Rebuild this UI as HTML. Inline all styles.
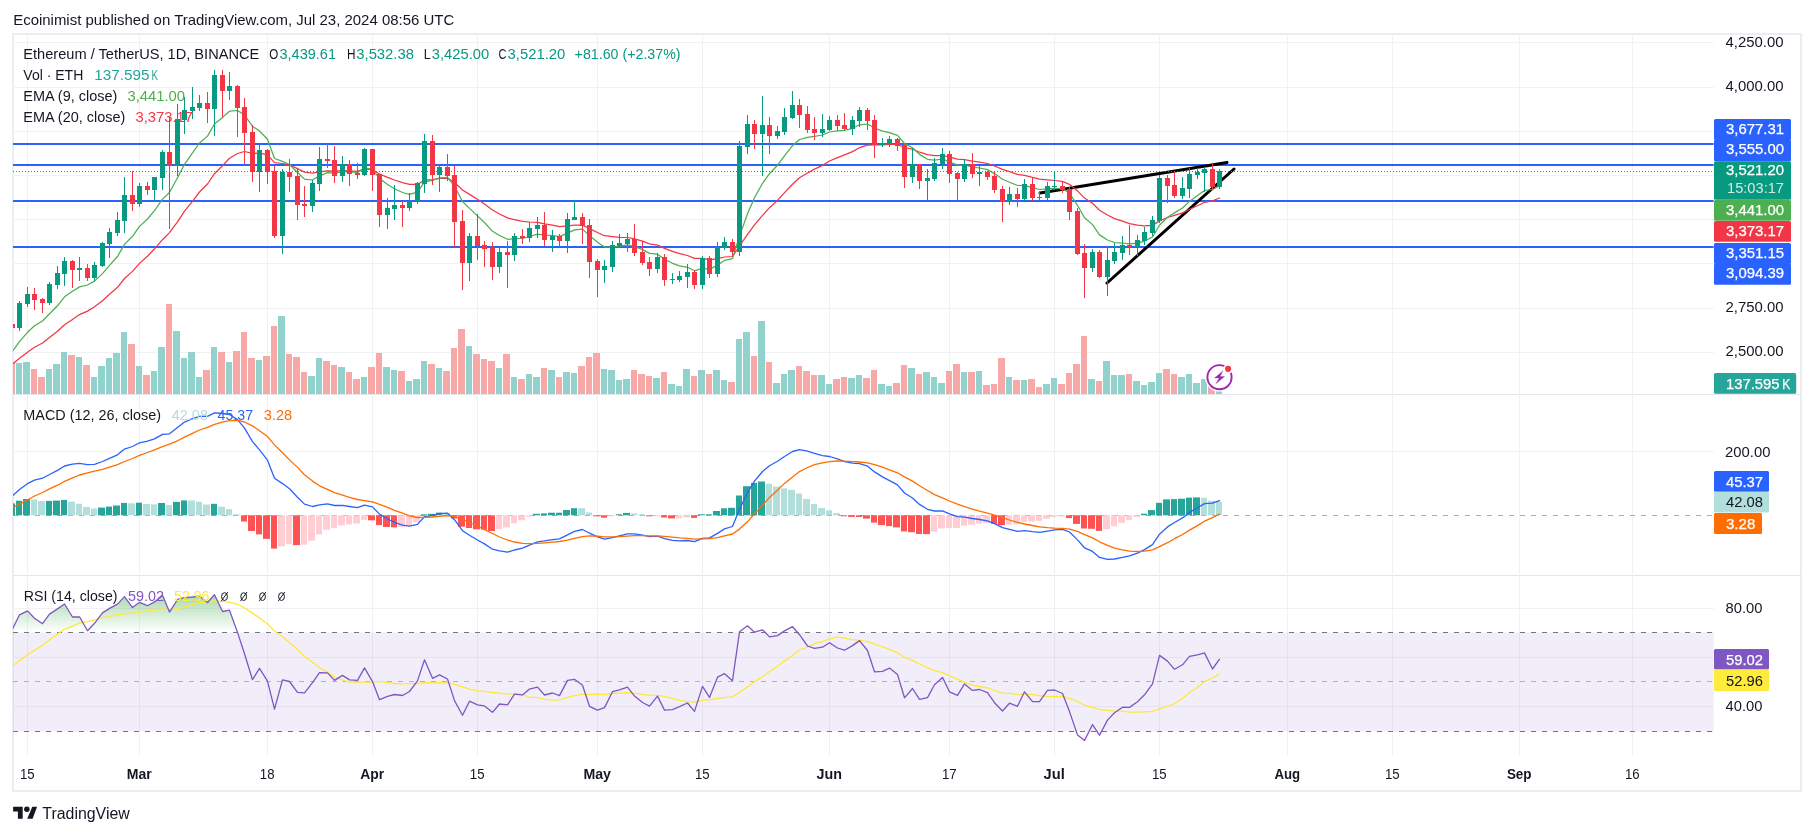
<!DOCTYPE html><html><head><meta charset="utf-8"><style>html,body{margin:0;padding:0;background:#fff}svg{display:block}</style></head><body><svg width="1814" height="835" viewBox="0 0 1814 835" font-family="Liberation Sans, sans-serif">
<rect width="1814" height="835" fill="#fff"/>
<defs><filter id="idf" x="0" y="0" width="1814" height="835" filterUnits="userSpaceOnUse" color-interpolation-filters="sRGB"><feOffset dx="0" dy="0"/></filter></defs>
<g filter="url(#idf)">
<text x="13.2" y="24.6" font-size="15" fill="#131722" font-weight="normal" text-anchor="start" textLength="441.0" lengthAdjust="spacingAndGlyphs" >Ecoinimist published on TradingView.com, Jul 23, 2024 08:56 UTC</text>
<defs><clipPath id="cp1"><rect x="13" y="34" width="1700.8" height="360.5"/></clipPath><clipPath id="cp2"><rect x="13" y="394.5" width="1700.8" height="181.0"/></clipPath><clipPath id="cp3"><rect x="13" y="575.5" width="1700.8" height="182.0"/></clipPath><linearGradient id="rg" x1="0" y1="0" x2="0" y2="1"><stop offset="0" stop-color="#4caf50" stop-opacity="0.95"/><stop offset="1" stop-color="#4caf50" stop-opacity="0"/></linearGradient><linearGradient id="rg2" x1="0" y1="0" x2="0" y2="1"><stop offset="0" stop-color="#f23645" stop-opacity="0"/><stop offset="1" stop-color="#f23645" stop-opacity="0.95"/></linearGradient></defs>
<g stroke="#ebedf2" stroke-width="2" fill="none">
<rect x="13" y="34" width="1788" height="757"/>
</g>
<g stroke="#e4e6ec" stroke-width="1" fill="none">
<line x1="12.5" y1="394.5" x2="1801" y2="394.5"/>
<line x1="12.5" y1="575.5" x2="1801" y2="575.5"/>
</g>
<g stroke="#f1f1f3" stroke-width="1">
<line x1="27.5" y1="34" x2="27.5" y2="756"/>
<line x1="139.5" y1="34" x2="139.5" y2="756"/>
<line x1="267.5" y1="34" x2="267.5" y2="756"/>
<line x1="372.5" y1="34" x2="372.5" y2="756"/>
<line x1="477.5" y1="34" x2="477.5" y2="756"/>
<line x1="597.5" y1="34" x2="597.5" y2="756"/>
<line x1="702.5" y1="34" x2="702.5" y2="756"/>
<line x1="829.5" y1="34" x2="829.5" y2="756"/>
<line x1="949.5" y1="34" x2="949.5" y2="756"/>
<line x1="1054.5" y1="34" x2="1054.5" y2="756"/>
<line x1="1159.5" y1="34" x2="1159.5" y2="756"/>
<line x1="1287.5" y1="34" x2="1287.5" y2="756"/>
<line x1="1392.5" y1="34" x2="1392.5" y2="756"/>
<line x1="1519.5" y1="34" x2="1519.5" y2="756"/>
<line x1="1632.5" y1="34" x2="1632.5" y2="756"/>
<line x1="12.5" y1="42.5" x2="1713.8" y2="42.5"/>
<line x1="12.5" y1="87.5" x2="1713.8" y2="87.5"/>
<line x1="12.5" y1="131.5" x2="1713.8" y2="131.5"/>
<line x1="12.5" y1="175.5" x2="1713.8" y2="175.5"/>
<line x1="12.5" y1="219.5" x2="1713.8" y2="219.5"/>
<line x1="12.5" y1="263.5" x2="1713.8" y2="263.5"/>
<line x1="12.5" y1="308.5" x2="1713.8" y2="308.5"/>
<line x1="12.5" y1="352.5" x2="1713.8" y2="352.5"/>
<line x1="12.5" y1="451.5" x2="1713.8" y2="451.5"/>
<line x1="12.5" y1="608.5" x2="1713.8" y2="608.5"/>
<line x1="12.5" y1="657.5" x2="1713.8" y2="657.5"/>
<line x1="12.5" y1="706.5" x2="1713.8" y2="706.5"/>
</g>
<g clip-path="url(#cp1)">
<rect x="8" y="363.0" width="7" height="31" fill="#f7a9a7"/>
<rect x="16" y="363.0" width="6" height="31" fill="#92d2cc"/>
<rect x="23" y="362.0" width="7" height="32" fill="#92d2cc"/>
<rect x="31" y="369.0" width="6" height="25" fill="#f7a9a7"/>
<rect x="38" y="377.0" width="7" height="17" fill="#f7a9a7"/>
<rect x="46" y="369.0" width="6" height="25" fill="#92d2cc"/>
<rect x="53" y="364.0" width="7" height="30" fill="#92d2cc"/>
<rect x="61" y="352.0" width="6" height="42" fill="#92d2cc"/>
<rect x="68" y="355.0" width="7" height="39" fill="#f7a9a7"/>
<rect x="76" y="357.0" width="6" height="37" fill="#92d2cc"/>
<rect x="83" y="365.0" width="7" height="29" fill="#f7a9a7"/>
<rect x="91" y="377.0" width="6" height="17" fill="#92d2cc"/>
<rect x="98" y="366.0" width="7" height="28" fill="#92d2cc"/>
<rect x="106" y="358.0" width="6" height="36" fill="#92d2cc"/>
<rect x="113" y="353.0" width="7" height="41" fill="#92d2cc"/>
<rect x="121" y="332.0" width="6" height="62" fill="#92d2cc"/>
<rect x="128" y="344.0" width="7" height="50" fill="#f7a9a7"/>
<rect x="136" y="366.0" width="6" height="28" fill="#92d2cc"/>
<rect x="143" y="375.0" width="7" height="19" fill="#f7a9a7"/>
<rect x="151" y="371.0" width="6" height="23" fill="#92d2cc"/>
<rect x="158" y="347.0" width="7" height="47" fill="#92d2cc"/>
<rect x="166" y="304.0" width="6" height="90" fill="#f7a9a7"/>
<rect x="173" y="331.0" width="7" height="63" fill="#92d2cc"/>
<rect x="181" y="358.0" width="6" height="36" fill="#92d2cc"/>
<rect x="188" y="352.0" width="7" height="42" fill="#92d2cc"/>
<rect x="196" y="377.0" width="6" height="17" fill="#92d2cc"/>
<rect x="203" y="370.0" width="7" height="24" fill="#f7a9a7"/>
<rect x="211" y="347.0" width="6" height="47" fill="#92d2cc"/>
<rect x="218" y="352.0" width="7" height="42" fill="#f7a9a7"/>
<rect x="226" y="362.0" width="6" height="32" fill="#92d2cc"/>
<rect x="233" y="351.0" width="7" height="43" fill="#f7a9a7"/>
<rect x="241" y="332.0" width="6" height="62" fill="#f7a9a7"/>
<rect x="248" y="358.0" width="7" height="36" fill="#f7a9a7"/>
<rect x="256" y="360.0" width="6" height="34" fill="#92d2cc"/>
<rect x="263" y="356.0" width="7" height="38" fill="#f7a9a7"/>
<rect x="271" y="326.0" width="6" height="68" fill="#f7a9a7"/>
<rect x="278" y="316.0" width="7" height="78" fill="#92d2cc"/>
<rect x="286" y="354.0" width="6" height="40" fill="#f7a9a7"/>
<rect x="293" y="357.0" width="7" height="37" fill="#f7a9a7"/>
<rect x="301" y="372.0" width="6" height="22" fill="#f7a9a7"/>
<rect x="308" y="376.0" width="7" height="18" fill="#92d2cc"/>
<rect x="316" y="358.0" width="6" height="36" fill="#92d2cc"/>
<rect x="323" y="361.0" width="7" height="33" fill="#f7a9a7"/>
<rect x="331" y="365.0" width="6" height="29" fill="#f7a9a7"/>
<rect x="338" y="367.0" width="7" height="27" fill="#92d2cc"/>
<rect x="346" y="372.0" width="6" height="22" fill="#f7a9a7"/>
<rect x="353" y="379.0" width="7" height="15" fill="#f7a9a7"/>
<rect x="361" y="377.0" width="6" height="17" fill="#92d2cc"/>
<rect x="368" y="367.0" width="7" height="27" fill="#f7a9a7"/>
<rect x="376" y="353.0" width="6" height="41" fill="#f7a9a7"/>
<rect x="383" y="367.0" width="7" height="27" fill="#92d2cc"/>
<rect x="391" y="370.0" width="6" height="24" fill="#92d2cc"/>
<rect x="398" y="371.0" width="7" height="23" fill="#f7a9a7"/>
<rect x="406" y="381.0" width="6" height="13" fill="#92d2cc"/>
<rect x="413" y="379.0" width="7" height="15" fill="#92d2cc"/>
<rect x="421" y="361.0" width="6" height="33" fill="#92d2cc"/>
<rect x="428" y="364.0" width="7" height="30" fill="#f7a9a7"/>
<rect x="436" y="368.0" width="6" height="26" fill="#92d2cc"/>
<rect x="443" y="371.0" width="7" height="23" fill="#f7a9a7"/>
<rect x="451" y="348.0" width="6" height="46" fill="#f7a9a7"/>
<rect x="458" y="329.0" width="7" height="65" fill="#f7a9a7"/>
<rect x="466" y="346.0" width="6" height="48" fill="#92d2cc"/>
<rect x="473" y="354.0" width="7" height="40" fill="#f7a9a7"/>
<rect x="481" y="359.0" width="6" height="35" fill="#f7a9a7"/>
<rect x="488" y="361.0" width="7" height="33" fill="#f7a9a7"/>
<rect x="496" y="368.0" width="6" height="26" fill="#92d2cc"/>
<rect x="503" y="354.0" width="7" height="40" fill="#f7a9a7"/>
<rect x="511" y="377.0" width="6" height="17" fill="#92d2cc"/>
<rect x="518" y="379.0" width="7" height="15" fill="#f7a9a7"/>
<rect x="526" y="374.0" width="6" height="20" fill="#92d2cc"/>
<rect x="533" y="377.0" width="7" height="17" fill="#92d2cc"/>
<rect x="541" y="368.0" width="6" height="26" fill="#f7a9a7"/>
<rect x="548" y="370.0" width="7" height="24" fill="#92d2cc"/>
<rect x="556" y="377.0" width="6" height="17" fill="#f7a9a7"/>
<rect x="563" y="372.0" width="7" height="22" fill="#92d2cc"/>
<rect x="571" y="373.0" width="6" height="21" fill="#92d2cc"/>
<rect x="578" y="366.0" width="7" height="28" fill="#f7a9a7"/>
<rect x="586" y="357.0" width="6" height="37" fill="#f7a9a7"/>
<rect x="593" y="353.0" width="7" height="41" fill="#f7a9a7"/>
<rect x="601" y="369.0" width="6" height="25" fill="#92d2cc"/>
<rect x="608" y="370.0" width="7" height="24" fill="#92d2cc"/>
<rect x="616" y="380.0" width="6" height="14" fill="#92d2cc"/>
<rect x="623" y="379.0" width="7" height="15" fill="#92d2cc"/>
<rect x="631" y="370.0" width="6" height="24" fill="#f7a9a7"/>
<rect x="638" y="374.0" width="7" height="20" fill="#f7a9a7"/>
<rect x="646" y="376.0" width="6" height="18" fill="#f7a9a7"/>
<rect x="653" y="378.0" width="7" height="16" fill="#92d2cc"/>
<rect x="661" y="372.0" width="6" height="22" fill="#f7a9a7"/>
<rect x="668" y="384.0" width="7" height="10" fill="#92d2cc"/>
<rect x="676" y="386.0" width="6" height="8" fill="#92d2cc"/>
<rect x="683" y="369.0" width="7" height="25" fill="#92d2cc"/>
<rect x="691" y="376.0" width="6" height="18" fill="#f7a9a7"/>
<rect x="698" y="370.0" width="7" height="24" fill="#92d2cc"/>
<rect x="706" y="374.0" width="6" height="20" fill="#f7a9a7"/>
<rect x="713" y="370.0" width="7" height="24" fill="#92d2cc"/>
<rect x="721" y="380.0" width="6" height="14" fill="#92d2cc"/>
<rect x="728" y="382.0" width="7" height="12" fill="#f7a9a7"/>
<rect x="736" y="339.0" width="6" height="55" fill="#92d2cc"/>
<rect x="743" y="332.0" width="7" height="62" fill="#92d2cc"/>
<rect x="751" y="356.0" width="6" height="38" fill="#f7a9a7"/>
<rect x="758" y="321.0" width="7" height="73" fill="#92d2cc"/>
<rect x="766" y="362.0" width="6" height="32" fill="#f7a9a7"/>
<rect x="773" y="383.0" width="7" height="11" fill="#92d2cc"/>
<rect x="781" y="374.0" width="6" height="20" fill="#92d2cc"/>
<rect x="788" y="370.0" width="7" height="24" fill="#92d2cc"/>
<rect x="796" y="366.0" width="6" height="28" fill="#f7a9a7"/>
<rect x="803" y="371.0" width="7" height="23" fill="#f7a9a7"/>
<rect x="811" y="375.0" width="6" height="19" fill="#f7a9a7"/>
<rect x="818" y="375.0" width="7" height="19" fill="#92d2cc"/>
<rect x="826" y="384.0" width="6" height="10" fill="#92d2cc"/>
<rect x="833" y="379.0" width="7" height="15" fill="#f7a9a7"/>
<rect x="841" y="377.0" width="6" height="17" fill="#f7a9a7"/>
<rect x="848" y="378.0" width="7" height="16" fill="#92d2cc"/>
<rect x="856" y="375.0" width="6" height="19" fill="#92d2cc"/>
<rect x="863" y="378.0" width="7" height="16" fill="#f7a9a7"/>
<rect x="871" y="370.0" width="6" height="24" fill="#f7a9a7"/>
<rect x="878" y="384.0" width="7" height="10" fill="#92d2cc"/>
<rect x="886" y="386.0" width="6" height="8" fill="#92d2cc"/>
<rect x="893" y="383.0" width="7" height="11" fill="#f7a9a7"/>
<rect x="901" y="365.0" width="6" height="29" fill="#f7a9a7"/>
<rect x="908" y="368.0" width="7" height="26" fill="#92d2cc"/>
<rect x="916" y="374.0" width="6" height="20" fill="#f7a9a7"/>
<rect x="923" y="372.0" width="7" height="22" fill="#92d2cc"/>
<rect x="931" y="377.0" width="6" height="17" fill="#92d2cc"/>
<rect x="938" y="383.0" width="7" height="11" fill="#92d2cc"/>
<rect x="946" y="371.0" width="6" height="23" fill="#f7a9a7"/>
<rect x="953" y="364.0" width="7" height="30" fill="#f7a9a7"/>
<rect x="961" y="372.0" width="6" height="22" fill="#92d2cc"/>
<rect x="968" y="372.0" width="7" height="22" fill="#f7a9a7"/>
<rect x="976" y="371.0" width="6" height="23" fill="#92d2cc"/>
<rect x="983" y="385.0" width="7" height="9" fill="#f7a9a7"/>
<rect x="991" y="384.0" width="6" height="10" fill="#f7a9a7"/>
<rect x="998" y="358.0" width="7" height="36" fill="#f7a9a7"/>
<rect x="1006" y="377.0" width="6" height="17" fill="#92d2cc"/>
<rect x="1013" y="380.0" width="7" height="14" fill="#f7a9a7"/>
<rect x="1021" y="380.0" width="6" height="14" fill="#92d2cc"/>
<rect x="1028" y="379.0" width="7" height="15" fill="#f7a9a7"/>
<rect x="1036" y="387.0" width="6" height="7" fill="#f7a9a7"/>
<rect x="1043" y="384.0" width="7" height="10" fill="#92d2cc"/>
<rect x="1051" y="378.0" width="6" height="16" fill="#92d2cc"/>
<rect x="1058" y="384.0" width="7" height="10" fill="#f7a9a7"/>
<rect x="1066" y="373.0" width="6" height="21" fill="#f7a9a7"/>
<rect x="1073" y="364.0" width="7" height="30" fill="#f7a9a7"/>
<rect x="1081" y="336.0" width="6" height="58" fill="#f7a9a7"/>
<rect x="1088" y="379.0" width="7" height="15" fill="#92d2cc"/>
<rect x="1096" y="381.0" width="6" height="13" fill="#f7a9a7"/>
<rect x="1103" y="361.0" width="7" height="33" fill="#92d2cc"/>
<rect x="1111" y="375.0" width="6" height="19" fill="#92d2cc"/>
<rect x="1118" y="375.0" width="7" height="19" fill="#92d2cc"/>
<rect x="1126" y="374.0" width="6" height="20" fill="#f7a9a7"/>
<rect x="1133" y="381.0" width="7" height="13" fill="#92d2cc"/>
<rect x="1141" y="385.0" width="6" height="9" fill="#92d2cc"/>
<rect x="1148" y="382.0" width="7" height="12" fill="#92d2cc"/>
<rect x="1156" y="373.0" width="6" height="21" fill="#92d2cc"/>
<rect x="1163" y="369.0" width="7" height="25" fill="#f7a9a7"/>
<rect x="1171" y="374.0" width="6" height="20" fill="#f7a9a7"/>
<rect x="1178" y="377.0" width="7" height="17" fill="#92d2cc"/>
<rect x="1186" y="374.0" width="6" height="20" fill="#92d2cc"/>
<rect x="1193" y="383.0" width="7" height="11" fill="#92d2cc"/>
<rect x="1201" y="379.0" width="6" height="15" fill="#92d2cc"/>
<rect x="1208" y="385.0" width="7" height="9" fill="#f7a9a7"/>
<rect x="1216" y="384.0" width="6" height="10" fill="#92d2cc"/>
<line x1="12.5" y1="144" x2="1713.8" y2="144" stroke="#2962ff" stroke-width="2"/>
<line x1="12.5" y1="165" x2="1713.8" y2="165" stroke="#2962ff" stroke-width="2"/>
<line x1="12.5" y1="201" x2="1713.8" y2="201" stroke="#2962ff" stroke-width="2"/>
<line x1="12.5" y1="247" x2="1713.8" y2="247" stroke="#2962ff" stroke-width="2"/>
<line x1="1040" y1="193" x2="1227" y2="162.5" stroke="#000" stroke-width="3" stroke-linecap="round"/>
<line x1="1107" y1="283" x2="1234" y2="169" stroke="#000" stroke-width="3" stroke-linecap="round"/>
<polyline points="12.5,364.1 19.5,358.3 27.5,352.3 34.5,347.2 42.5,343.0 49.5,337.4 57.5,331.3 64.5,324.7 72.5,319.4 79.5,314.6 87.5,311.1 94.5,306.7 102.5,300.7 109.5,294.2 117.5,287.3 124.5,278.5 132.5,271.4 139.5,263.4 147.5,256.3 154.5,248.8 162.5,239.7 169.5,232.6 177.5,221.8 184.5,211.2 192.5,201.3 199.5,192.0 207.5,184.0 214.5,173.7 222.5,165.8 229.5,158.3 237.5,153.5 244.5,151.5 252.5,153.4 259.5,153.1 267.5,154.9 274.5,162.6 282.5,163.5 289.5,164.8 297.5,168.6 304.5,172.1 312.5,173.2 319.5,171.9 327.5,170.8 334.5,171.2 342.5,170.6 349.5,170.9 357.5,171.3 364.5,169.2 372.5,169.7 379.5,174.0 387.5,177.3 394.5,180.0 402.5,182.7 409.5,184.4 417.5,184.4 424.5,180.2 432.5,179.7 439.5,178.5 447.5,178.2 454.5,182.4 462.5,190.0 469.5,194.4 477.5,199.3 484.5,204.0 492.5,210.0 499.5,214.0 507.5,217.9 514.5,219.6 522.5,221.4 529.5,222.0 537.5,222.3 544.5,223.9 552.5,225.1 559.5,226.6 567.5,225.9 574.5,225.1 582.5,225.2 589.5,228.6 597.5,232.5 604.5,235.7 612.5,236.6 619.5,237.3 627.5,237.5 634.5,238.9 642.5,241.2 649.5,243.8 657.5,245.1 664.5,248.4 672.5,251.3 679.5,253.7 687.5,255.5 694.5,258.3 702.5,258.3 709.5,259.8 717.5,258.6 724.5,257.0 732.5,256.5 739.5,246.0 747.5,234.4 754.5,224.8 762.5,215.3 769.5,207.7 777.5,200.4 784.5,192.6 792.5,184.3 799.5,177.7 807.5,173.0 814.5,169.1 822.5,165.4 829.5,161.0 837.5,157.7 844.5,154.9 852.5,151.6 859.5,147.7 867.5,145.1 874.5,145.0 882.5,144.9 889.5,144.3 897.5,144.5 904.5,147.5 912.5,149.1 919.5,152.2 927.5,154.7 934.5,155.6 942.5,155.5 949.5,157.2 957.5,159.2 964.5,159.7 972.5,161.1 979.5,162.1 987.5,163.5 994.5,166.0 1002.5,169.4 1009.5,171.7 1017.5,174.3 1024.5,175.3 1032.5,177.3 1039.5,179.2 1047.5,179.9 1054.5,180.5 1062.5,181.4 1069.5,184.3 1077.5,190.9 1084.5,198.1 1092.5,203.3 1099.5,210.2 1107.5,215.0 1114.5,218.6 1122.5,221.2 1129.5,223.6 1137.5,225.2 1144.5,225.9 1152.5,225.4 1159.5,220.9 1167.5,217.5 1174.5,215.4 1182.5,212.9 1189.5,209.3 1197.5,205.8 1204.5,202.3 1212.5,200.8 1219.5,198.0" fill="none" stroke="#f23645" stroke-width="1.25" stroke-linejoin="round" stroke-linecap="round" />
<polyline points="12.5,351.2 19.5,341.6 27.5,332.3 34.5,325.7 42.5,321.0 49.5,313.8 57.5,305.8 64.5,296.8 72.5,291.3 79.5,286.9 87.5,285.0 94.5,281.1 102.5,273.6 109.5,265.4 117.5,256.5 124.5,244.4 132.5,236.3 139.5,226.4 147.5,219.0 154.5,210.7 162.5,199.1 169.5,192.5 177.5,177.8 184.5,164.3 192.5,152.9 199.5,143.0 207.5,136.1 214.5,124.0 222.5,117.4 229.5,111.2 237.5,110.5 244.5,115.0 252.5,126.3 259.5,131.0 267.5,139.2 274.5,158.5 282.5,161.4 289.5,164.5 297.5,172.5 304.5,179.1 312.5,180.0 319.5,175.9 327.5,172.7 334.5,173.3 342.5,171.6 349.5,172.0 357.5,172.5 364.5,167.9 372.5,169.3 379.5,178.4 387.5,184.5 394.5,188.7 402.5,192.5 409.5,194.3 417.5,192.1 424.5,181.9 432.5,180.4 439.5,177.9 447.5,177.3 454.5,186.2 462.5,201.5 469.5,208.4 477.5,215.9 484.5,222.5 492.5,231.3 499.5,235.5 507.5,239.3 514.5,238.7 522.5,238.5 529.5,236.5 537.5,234.2 544.5,235.2 552.5,235.5 559.5,236.6 567.5,233.1 574.5,229.9 582.5,229.1 589.5,235.6 597.5,242.3 604.5,247.1 612.5,246.8 619.5,246.1 627.5,244.8 634.5,246.4 642.5,249.6 649.5,253.4 657.5,254.2 664.5,259.3 672.5,263.3 679.5,265.9 687.5,267.3 694.5,270.8 702.5,268.3 709.5,269.4 717.5,265.0 724.5,260.4 732.5,258.6 739.5,236.1 747.5,213.8 754.5,197.7 762.5,183.3 769.5,173.7 777.5,165.2 784.5,155.8 792.5,145.7 799.5,139.5 807.5,137.4 814.5,136.3 822.5,135.0 829.5,132.0 837.5,130.8 844.5,130.3 852.5,128.3 859.5,124.8 867.5,124.0 874.5,128.0 882.5,131.1 889.5,132.7 897.5,135.3 904.5,143.5 912.5,147.7 919.5,154.4 927.5,159.3 934.5,160.2 942.5,159.0 949.5,161.9 957.5,165.2 964.5,165.2 972.5,166.8 979.5,168.0 987.5,169.6 994.5,173.6 1002.5,179.2 1009.5,182.2 1017.5,185.5 1024.5,185.3 1032.5,187.6 1039.5,189.5 1047.5,188.9 1054.5,188.4 1062.5,188.6 1069.5,193.3 1077.5,205.3 1084.5,217.7 1092.5,224.6 1099.5,234.9 1107.5,240.0 1114.5,242.5 1122.5,243.2 1129.5,243.8 1137.5,243.1 1144.5,241.1 1152.5,237.0 1159.5,225.3 1167.5,217.3 1174.5,212.9 1182.5,208.0 1189.5,201.4 1197.5,195.6 1204.5,190.4 1212.5,189.5 1219.5,186.0" fill="none" stroke="#4caf50" stroke-width="1.25" stroke-linejoin="round" stroke-linecap="round" />
<rect x="12" y="319" width="1" height="17" fill="#f23645"/>
<rect x="10" y="324" width="5" height="4" fill="#f23645"/>
<rect x="19" y="301" width="1" height="30" fill="#089981"/>
<rect x="17" y="303" width="5" height="25" fill="#089981"/>
<rect x="27" y="287" width="1" height="20" fill="#089981"/>
<rect x="25" y="294" width="5" height="10" fill="#089981"/>
<rect x="34" y="288" width="1" height="22" fill="#f23645"/>
<rect x="32" y="294" width="5" height="6" fill="#f23645"/>
<rect x="42" y="298" width="1" height="15" fill="#f23645"/>
<rect x="40" y="299" width="5" height="4" fill="#f23645"/>
<rect x="49" y="282" width="1" height="23" fill="#089981"/>
<rect x="47" y="284" width="5" height="19" fill="#089981"/>
<rect x="57" y="266" width="1" height="23" fill="#089981"/>
<rect x="55" y="273" width="5" height="12" fill="#089981"/>
<rect x="64" y="257" width="1" height="29" fill="#089981"/>
<rect x="62" y="261" width="5" height="13" fill="#089981"/>
<rect x="72" y="260" width="1" height="28" fill="#f23645"/>
<rect x="70" y="261" width="5" height="9" fill="#f23645"/>
<rect x="79" y="257" width="1" height="24" fill="#089981"/>
<rect x="77" y="268" width="5" height="2" fill="#089981"/>
<rect x="87" y="264" width="1" height="17" fill="#f23645"/>
<rect x="85" y="268" width="5" height="10" fill="#f23645"/>
<rect x="94" y="262" width="1" height="19" fill="#089981"/>
<rect x="92" y="265" width="5" height="13" fill="#089981"/>
<rect x="102" y="242" width="1" height="25" fill="#089981"/>
<rect x="100" y="243" width="5" height="23" fill="#089981"/>
<rect x="109" y="228" width="1" height="30" fill="#089981"/>
<rect x="107" y="232" width="5" height="12" fill="#089981"/>
<rect x="117" y="212" width="1" height="24" fill="#089981"/>
<rect x="115" y="220" width="5" height="13" fill="#089981"/>
<rect x="124" y="177" width="1" height="56" fill="#089981"/>
<rect x="122" y="195" width="5" height="26" fill="#089981"/>
<rect x="132" y="171" width="1" height="40" fill="#f23645"/>
<rect x="130" y="195" width="5" height="9" fill="#f23645"/>
<rect x="139" y="183" width="1" height="24" fill="#089981"/>
<rect x="137" y="186" width="5" height="18" fill="#089981"/>
<rect x="147" y="182" width="1" height="13" fill="#f23645"/>
<rect x="145" y="186" width="5" height="4" fill="#f23645"/>
<rect x="154" y="177" width="1" height="24" fill="#089981"/>
<rect x="152" y="177" width="5" height="13" fill="#089981"/>
<rect x="162" y="150" width="1" height="40" fill="#089981"/>
<rect x="160" y="152" width="5" height="26" fill="#089981"/>
<rect x="169" y="117" width="1" height="112" fill="#f23645"/>
<rect x="167" y="152" width="5" height="14" fill="#f23645"/>
<rect x="177" y="104" width="1" height="72" fill="#089981"/>
<rect x="175" y="119" width="5" height="47" fill="#089981"/>
<rect x="184" y="97" width="1" height="37" fill="#089981"/>
<rect x="182" y="110" width="5" height="10" fill="#089981"/>
<rect x="192" y="87" width="1" height="32" fill="#089981"/>
<rect x="190" y="107" width="5" height="4" fill="#089981"/>
<rect x="199" y="95" width="1" height="16" fill="#089981"/>
<rect x="197" y="103" width="5" height="5" fill="#089981"/>
<rect x="207" y="92" width="1" height="31" fill="#f23645"/>
<rect x="205" y="103" width="5" height="6" fill="#f23645"/>
<rect x="214" y="70" width="1" height="66" fill="#089981"/>
<rect x="212" y="75" width="5" height="34" fill="#089981"/>
<rect x="222" y="70" width="1" height="48" fill="#f23645"/>
<rect x="220" y="75" width="5" height="16" fill="#f23645"/>
<rect x="229" y="72" width="1" height="28" fill="#089981"/>
<rect x="227" y="86" width="5" height="5" fill="#089981"/>
<rect x="237" y="85" width="1" height="52" fill="#f23645"/>
<rect x="235" y="86" width="5" height="22" fill="#f23645"/>
<rect x="244" y="98" width="1" height="66" fill="#f23645"/>
<rect x="242" y="107" width="5" height="26" fill="#f23645"/>
<rect x="252" y="125" width="1" height="57" fill="#f23645"/>
<rect x="250" y="132" width="5" height="40" fill="#f23645"/>
<rect x="259" y="144" width="1" height="48" fill="#089981"/>
<rect x="257" y="150" width="5" height="22" fill="#089981"/>
<rect x="267" y="149" width="1" height="35" fill="#f23645"/>
<rect x="265" y="150" width="5" height="22" fill="#f23645"/>
<rect x="274" y="166" width="1" height="72" fill="#f23645"/>
<rect x="272" y="171" width="5" height="65" fill="#f23645"/>
<rect x="282" y="169" width="1" height="85" fill="#089981"/>
<rect x="280" y="172" width="5" height="64" fill="#089981"/>
<rect x="289" y="159" width="1" height="33" fill="#f23645"/>
<rect x="287" y="172" width="5" height="5" fill="#f23645"/>
<rect x="297" y="168" width="1" height="52" fill="#f23645"/>
<rect x="295" y="176" width="5" height="29" fill="#f23645"/>
<rect x="304" y="186" width="1" height="31" fill="#f23645"/>
<rect x="302" y="204" width="5" height="2" fill="#f23645"/>
<rect x="312" y="180" width="1" height="32" fill="#089981"/>
<rect x="310" y="183" width="5" height="23" fill="#089981"/>
<rect x="319" y="147" width="1" height="44" fill="#089981"/>
<rect x="317" y="159" width="5" height="25" fill="#089981"/>
<rect x="327" y="144" width="1" height="24" fill="#f23645"/>
<rect x="325" y="159" width="5" height="2" fill="#f23645"/>
<rect x="334" y="146" width="1" height="37" fill="#f23645"/>
<rect x="332" y="160" width="5" height="16" fill="#f23645"/>
<rect x="342" y="156" width="1" height="26" fill="#089981"/>
<rect x="340" y="164" width="5" height="12" fill="#089981"/>
<rect x="349" y="160" width="1" height="26" fill="#f23645"/>
<rect x="347" y="164" width="5" height="10" fill="#f23645"/>
<rect x="357" y="163" width="1" height="16" fill="#f23645"/>
<rect x="355" y="173" width="5" height="2" fill="#f23645"/>
<rect x="364" y="148" width="1" height="28" fill="#089981"/>
<rect x="362" y="149" width="5" height="26" fill="#089981"/>
<rect x="372" y="149" width="1" height="42" fill="#f23645"/>
<rect x="370" y="149" width="5" height="26" fill="#f23645"/>
<rect x="379" y="174" width="1" height="53" fill="#f23645"/>
<rect x="377" y="174" width="5" height="41" fill="#f23645"/>
<rect x="387" y="198" width="1" height="31" fill="#089981"/>
<rect x="385" y="208" width="5" height="7" fill="#089981"/>
<rect x="394" y="185" width="1" height="35" fill="#089981"/>
<rect x="392" y="205" width="5" height="4" fill="#089981"/>
<rect x="402" y="201" width="1" height="26" fill="#f23645"/>
<rect x="400" y="205" width="5" height="3" fill="#f23645"/>
<rect x="409" y="193" width="1" height="18" fill="#089981"/>
<rect x="407" y="201" width="5" height="7" fill="#089981"/>
<rect x="417" y="182" width="1" height="22" fill="#089981"/>
<rect x="415" y="183" width="5" height="19" fill="#089981"/>
<rect x="424" y="134" width="1" height="59" fill="#089981"/>
<rect x="422" y="141" width="5" height="43" fill="#089981"/>
<rect x="432" y="135" width="1" height="50" fill="#f23645"/>
<rect x="430" y="141" width="5" height="34" fill="#f23645"/>
<rect x="439" y="164" width="1" height="28" fill="#089981"/>
<rect x="437" y="167" width="5" height="8" fill="#089981"/>
<rect x="447" y="154" width="1" height="27" fill="#f23645"/>
<rect x="445" y="167" width="5" height="9" fill="#f23645"/>
<rect x="454" y="166" width="1" height="81" fill="#f23645"/>
<rect x="452" y="175" width="5" height="47" fill="#f23645"/>
<rect x="462" y="210" width="1" height="80" fill="#f23645"/>
<rect x="460" y="221" width="5" height="42" fill="#f23645"/>
<rect x="469" y="233" width="1" height="48" fill="#089981"/>
<rect x="467" y="236" width="5" height="27" fill="#089981"/>
<rect x="477" y="214" width="1" height="46" fill="#f23645"/>
<rect x="475" y="236" width="5" height="10" fill="#f23645"/>
<rect x="484" y="241" width="1" height="26" fill="#f23645"/>
<rect x="482" y="245" width="5" height="4" fill="#f23645"/>
<rect x="492" y="242" width="1" height="38" fill="#f23645"/>
<rect x="490" y="248" width="5" height="19" fill="#f23645"/>
<rect x="499" y="247" width="1" height="26" fill="#089981"/>
<rect x="497" y="252" width="5" height="15" fill="#089981"/>
<rect x="507" y="241" width="1" height="47" fill="#f23645"/>
<rect x="505" y="252" width="5" height="3" fill="#f23645"/>
<rect x="514" y="233" width="1" height="28" fill="#089981"/>
<rect x="512" y="236" width="5" height="19" fill="#089981"/>
<rect x="522" y="229" width="1" height="15" fill="#f23645"/>
<rect x="520" y="236" width="5" height="2" fill="#f23645"/>
<rect x="529" y="222" width="1" height="20" fill="#089981"/>
<rect x="527" y="228" width="5" height="10" fill="#089981"/>
<rect x="537" y="217" width="1" height="21" fill="#089981"/>
<rect x="535" y="225" width="5" height="4" fill="#089981"/>
<rect x="544" y="212" width="1" height="34" fill="#f23645"/>
<rect x="542" y="225" width="5" height="15" fill="#f23645"/>
<rect x="552" y="230" width="1" height="22" fill="#089981"/>
<rect x="550" y="236" width="5" height="4" fill="#089981"/>
<rect x="559" y="234" width="1" height="13" fill="#f23645"/>
<rect x="557" y="236" width="5" height="5" fill="#f23645"/>
<rect x="567" y="213" width="1" height="40" fill="#089981"/>
<rect x="565" y="219" width="5" height="22" fill="#089981"/>
<rect x="574" y="200" width="1" height="20" fill="#089981"/>
<rect x="572" y="217" width="5" height="3" fill="#089981"/>
<rect x="582" y="213" width="1" height="31" fill="#f23645"/>
<rect x="580" y="217" width="5" height="9" fill="#f23645"/>
<rect x="589" y="219" width="1" height="59" fill="#f23645"/>
<rect x="587" y="225" width="5" height="37" fill="#f23645"/>
<rect x="597" y="259" width="1" height="38" fill="#f23645"/>
<rect x="595" y="261" width="5" height="9" fill="#f23645"/>
<rect x="604" y="260" width="1" height="23" fill="#089981"/>
<rect x="602" y="266" width="5" height="4" fill="#089981"/>
<rect x="612" y="241" width="1" height="31" fill="#089981"/>
<rect x="610" y="245" width="5" height="22" fill="#089981"/>
<rect x="619" y="234" width="1" height="14" fill="#089981"/>
<rect x="617" y="243" width="5" height="3" fill="#089981"/>
<rect x="627" y="233" width="1" height="19" fill="#089981"/>
<rect x="625" y="239" width="5" height="5" fill="#089981"/>
<rect x="634" y="224" width="1" height="32" fill="#f23645"/>
<rect x="632" y="239" width="5" height="14" fill="#f23645"/>
<rect x="642" y="241" width="1" height="24" fill="#f23645"/>
<rect x="640" y="252" width="5" height="11" fill="#f23645"/>
<rect x="649" y="257" width="1" height="19" fill="#f23645"/>
<rect x="647" y="262" width="5" height="7" fill="#f23645"/>
<rect x="657" y="253" width="1" height="20" fill="#089981"/>
<rect x="655" y="257" width="5" height="12" fill="#089981"/>
<rect x="664" y="254" width="1" height="32" fill="#f23645"/>
<rect x="662" y="257" width="5" height="23" fill="#f23645"/>
<rect x="672" y="273" width="1" height="11" fill="#089981"/>
<rect x="670" y="279" width="5" height="1" fill="#089981"/>
<rect x="679" y="271" width="1" height="11" fill="#089981"/>
<rect x="677" y="276" width="5" height="4" fill="#089981"/>
<rect x="687" y="264" width="1" height="24" fill="#089981"/>
<rect x="685" y="272" width="5" height="5" fill="#089981"/>
<rect x="694" y="270" width="1" height="19" fill="#f23645"/>
<rect x="692" y="272" width="5" height="13" fill="#f23645"/>
<rect x="702" y="256" width="1" height="33" fill="#089981"/>
<rect x="700" y="258" width="5" height="27" fill="#089981"/>
<rect x="709" y="256" width="1" height="22" fill="#f23645"/>
<rect x="707" y="258" width="5" height="16" fill="#f23645"/>
<rect x="717" y="242" width="1" height="35" fill="#089981"/>
<rect x="715" y="247" width="5" height="27" fill="#089981"/>
<rect x="724" y="237" width="1" height="13" fill="#089981"/>
<rect x="722" y="242" width="5" height="6" fill="#089981"/>
<rect x="732" y="239" width="1" height="17" fill="#f23645"/>
<rect x="730" y="242" width="5" height="10" fill="#f23645"/>
<rect x="739" y="141" width="1" height="115" fill="#089981"/>
<rect x="737" y="146" width="5" height="106" fill="#089981"/>
<rect x="747" y="115" width="1" height="39" fill="#089981"/>
<rect x="745" y="124" width="5" height="23" fill="#089981"/>
<rect x="754" y="120" width="1" height="29" fill="#f23645"/>
<rect x="752" y="124" width="5" height="10" fill="#f23645"/>
<rect x="762" y="96" width="1" height="80" fill="#089981"/>
<rect x="760" y="125" width="5" height="9" fill="#089981"/>
<rect x="769" y="117" width="1" height="37" fill="#f23645"/>
<rect x="767" y="125" width="5" height="11" fill="#f23645"/>
<rect x="777" y="126" width="1" height="13" fill="#089981"/>
<rect x="775" y="131" width="5" height="5" fill="#089981"/>
<rect x="784" y="108" width="1" height="27" fill="#089981"/>
<rect x="782" y="117" width="5" height="15" fill="#089981"/>
<rect x="792" y="91" width="1" height="28" fill="#089981"/>
<rect x="790" y="105" width="5" height="13" fill="#089981"/>
<rect x="799" y="99" width="1" height="29" fill="#f23645"/>
<rect x="797" y="105" width="5" height="10" fill="#f23645"/>
<rect x="807" y="106" width="1" height="27" fill="#f23645"/>
<rect x="805" y="114" width="5" height="16" fill="#f23645"/>
<rect x="814" y="117" width="1" height="23" fill="#f23645"/>
<rect x="812" y="129" width="5" height="4" fill="#f23645"/>
<rect x="822" y="114" width="1" height="23" fill="#089981"/>
<rect x="820" y="129" width="5" height="4" fill="#089981"/>
<rect x="829" y="116" width="1" height="15" fill="#089981"/>
<rect x="827" y="120" width="5" height="10" fill="#089981"/>
<rect x="837" y="115" width="1" height="16" fill="#f23645"/>
<rect x="835" y="120" width="5" height="6" fill="#f23645"/>
<rect x="844" y="113" width="1" height="17" fill="#f23645"/>
<rect x="842" y="125" width="5" height="4" fill="#f23645"/>
<rect x="852" y="116" width="1" height="19" fill="#089981"/>
<rect x="850" y="120" width="5" height="9" fill="#089981"/>
<rect x="859" y="107" width="1" height="20" fill="#089981"/>
<rect x="857" y="110" width="5" height="11" fill="#089981"/>
<rect x="867" y="108" width="1" height="22" fill="#f23645"/>
<rect x="865" y="110" width="5" height="11" fill="#f23645"/>
<rect x="874" y="115" width="1" height="43" fill="#f23645"/>
<rect x="872" y="120" width="5" height="25" fill="#f23645"/>
<rect x="882" y="138" width="1" height="9" fill="#089981"/>
<rect x="880" y="143" width="5" height="2" fill="#089981"/>
<rect x="889" y="136" width="1" height="11" fill="#089981"/>
<rect x="887" y="139" width="5" height="5" fill="#089981"/>
<rect x="897" y="138" width="1" height="13" fill="#f23645"/>
<rect x="895" y="139" width="5" height="7" fill="#f23645"/>
<rect x="904" y="144" width="1" height="44" fill="#f23645"/>
<rect x="902" y="145" width="5" height="32" fill="#f23645"/>
<rect x="912" y="148" width="1" height="35" fill="#089981"/>
<rect x="910" y="164" width="5" height="13" fill="#089981"/>
<rect x="919" y="164" width="1" height="25" fill="#f23645"/>
<rect x="917" y="164" width="5" height="17" fill="#f23645"/>
<rect x="927" y="169" width="1" height="31" fill="#089981"/>
<rect x="925" y="178" width="5" height="3" fill="#089981"/>
<rect x="934" y="158" width="1" height="23" fill="#089981"/>
<rect x="932" y="163" width="5" height="16" fill="#089981"/>
<rect x="942" y="148" width="1" height="21" fill="#089981"/>
<rect x="940" y="154" width="5" height="10" fill="#089981"/>
<rect x="949" y="151" width="1" height="32" fill="#f23645"/>
<rect x="947" y="154" width="5" height="20" fill="#f23645"/>
<rect x="957" y="172" width="1" height="30" fill="#f23645"/>
<rect x="955" y="173" width="5" height="6" fill="#f23645"/>
<rect x="964" y="159" width="1" height="23" fill="#089981"/>
<rect x="962" y="164" width="5" height="15" fill="#089981"/>
<rect x="972" y="153" width="1" height="25" fill="#f23645"/>
<rect x="970" y="164" width="5" height="10" fill="#f23645"/>
<rect x="979" y="166" width="1" height="20" fill="#089981"/>
<rect x="977" y="172" width="5" height="2" fill="#089981"/>
<rect x="987" y="171" width="1" height="9" fill="#f23645"/>
<rect x="985" y="172" width="5" height="5" fill="#f23645"/>
<rect x="994" y="171" width="1" height="22" fill="#f23645"/>
<rect x="992" y="176" width="5" height="14" fill="#f23645"/>
<rect x="1002" y="186" width="1" height="36" fill="#f23645"/>
<rect x="1000" y="189" width="5" height="13" fill="#f23645"/>
<rect x="1009" y="187" width="1" height="18" fill="#089981"/>
<rect x="1007" y="194" width="5" height="8" fill="#089981"/>
<rect x="1017" y="188" width="1" height="19" fill="#f23645"/>
<rect x="1015" y="194" width="5" height="5" fill="#f23645"/>
<rect x="1024" y="179" width="1" height="22" fill="#089981"/>
<rect x="1022" y="184" width="5" height="15" fill="#089981"/>
<rect x="1032" y="177" width="1" height="24" fill="#f23645"/>
<rect x="1030" y="184" width="5" height="14" fill="#f23645"/>
<rect x="1039" y="191" width="1" height="9" fill="#f23645"/>
<rect x="1037" y="197" width="5" height="1" fill="#f23645"/>
<rect x="1047" y="182" width="1" height="20" fill="#089981"/>
<rect x="1045" y="186" width="5" height="12" fill="#089981"/>
<rect x="1054" y="171" width="1" height="19" fill="#089981"/>
<rect x="1052" y="186" width="5" height="1" fill="#089981"/>
<rect x="1062" y="181" width="1" height="12" fill="#f23645"/>
<rect x="1060" y="186" width="5" height="4" fill="#f23645"/>
<rect x="1069" y="187" width="1" height="33" fill="#f23645"/>
<rect x="1067" y="189" width="5" height="23" fill="#f23645"/>
<rect x="1077" y="208" width="1" height="47" fill="#f23645"/>
<rect x="1075" y="211" width="5" height="43" fill="#f23645"/>
<rect x="1084" y="244" width="1" height="54" fill="#f23645"/>
<rect x="1082" y="253" width="5" height="15" fill="#f23645"/>
<rect x="1092" y="249" width="1" height="23" fill="#089981"/>
<rect x="1090" y="252" width="5" height="16" fill="#089981"/>
<rect x="1099" y="250" width="1" height="28" fill="#f23645"/>
<rect x="1097" y="252" width="5" height="25" fill="#f23645"/>
<rect x="1107" y="246" width="1" height="50" fill="#089981"/>
<rect x="1105" y="260" width="5" height="17" fill="#089981"/>
<rect x="1114" y="243" width="1" height="21" fill="#089981"/>
<rect x="1112" y="252" width="5" height="9" fill="#089981"/>
<rect x="1122" y="236" width="1" height="24" fill="#089981"/>
<rect x="1120" y="245" width="5" height="8" fill="#089981"/>
<rect x="1129" y="225" width="1" height="30" fill="#f23645"/>
<rect x="1127" y="245" width="5" height="2" fill="#f23645"/>
<rect x="1137" y="235" width="1" height="21" fill="#089981"/>
<rect x="1135" y="240" width="5" height="7" fill="#089981"/>
<rect x="1144" y="227" width="1" height="18" fill="#089981"/>
<rect x="1142" y="232" width="5" height="9" fill="#089981"/>
<rect x="1152" y="216" width="1" height="20" fill="#089981"/>
<rect x="1150" y="220" width="5" height="13" fill="#089981"/>
<rect x="1159" y="175" width="1" height="48" fill="#089981"/>
<rect x="1157" y="178" width="5" height="43" fill="#089981"/>
<rect x="1167" y="175" width="1" height="28" fill="#f23645"/>
<rect x="1165" y="178" width="5" height="8" fill="#f23645"/>
<rect x="1174" y="172" width="1" height="26" fill="#f23645"/>
<rect x="1172" y="185" width="5" height="11" fill="#f23645"/>
<rect x="1182" y="177" width="1" height="22" fill="#089981"/>
<rect x="1180" y="188" width="5" height="8" fill="#089981"/>
<rect x="1189" y="168" width="1" height="30" fill="#089981"/>
<rect x="1187" y="174" width="5" height="15" fill="#089981"/>
<rect x="1197" y="168" width="1" height="11" fill="#089981"/>
<rect x="1195" y="172" width="5" height="3" fill="#089981"/>
<rect x="1204" y="167" width="1" height="25" fill="#089981"/>
<rect x="1202" y="169" width="5" height="4" fill="#089981"/>
<rect x="1212" y="164" width="1" height="25" fill="#f23645"/>
<rect x="1210" y="169" width="5" height="18" fill="#f23645"/>
<rect x="1219" y="169" width="1" height="20" fill="#089981"/>
<rect x="1217" y="171" width="5" height="16" fill="#089981"/>
<line x1="13" y1="171.5" x2="1713.8" y2="171.5" stroke="#089981" stroke-width="1" stroke-dasharray="1 2"/>
</g>
<g clip-path="url(#cp2)">
<line x1="13" y1="515.5" x2="1713.8" y2="515.5" stroke="#a9abb4" stroke-width="1" stroke-dasharray="5 6"/>
<rect x="8" y="503.4" width="7" height="11.9" fill="#26a69a"/>
<rect x="16" y="500.7" width="6" height="14.6" fill="#26a69a"/>
<rect x="23" y="499.0" width="7" height="16.3" fill="#26a69a"/>
<rect x="31" y="499.4" width="6" height="15.9" fill="#b2dfdb"/>
<rect x="38" y="501.0" width="7" height="14.3" fill="#b2dfdb"/>
<rect x="46" y="500.9" width="6" height="14.4" fill="#26a69a"/>
<rect x="53" y="500.6" width="7" height="14.7" fill="#26a69a"/>
<rect x="61" y="499.9" width="6" height="15.4" fill="#26a69a"/>
<rect x="68" y="501.6" width="7" height="13.7" fill="#b2dfdb"/>
<rect x="76" y="503.7" width="6" height="11.6" fill="#b2dfdb"/>
<rect x="83" y="507.0" width="7" height="8.3" fill="#b2dfdb"/>
<rect x="91" y="508.4" width="6" height="6.9" fill="#b2dfdb"/>
<rect x="98" y="507.6" width="7" height="7.7" fill="#26a69a"/>
<rect x="106" y="506.6" width="6" height="8.7" fill="#26a69a"/>
<rect x="113" y="505.5" width="7" height="9.8" fill="#26a69a"/>
<rect x="121" y="502.9" width="6" height="12.4" fill="#26a69a"/>
<rect x="128" y="503.3" width="7" height="12.0" fill="#b2dfdb"/>
<rect x="136" y="502.7" width="6" height="12.6" fill="#26a69a"/>
<rect x="143" y="503.9" width="7" height="11.4" fill="#b2dfdb"/>
<rect x="151" y="504.4" width="6" height="10.9" fill="#b2dfdb"/>
<rect x="158" y="503.0" width="7" height="12.3" fill="#26a69a"/>
<rect x="166" y="504.9" width="6" height="10.4" fill="#b2dfdb"/>
<rect x="173" y="501.9" width="7" height="13.4" fill="#26a69a"/>
<rect x="181" y="500.4" width="6" height="14.9" fill="#26a69a"/>
<rect x="188" y="500.5" width="7" height="14.8" fill="#b2dfdb"/>
<rect x="196" y="501.7" width="6" height="13.6" fill="#b2dfdb"/>
<rect x="203" y="504.5" width="7" height="10.8" fill="#b2dfdb"/>
<rect x="211" y="503.8" width="6" height="11.5" fill="#26a69a"/>
<rect x="218" y="506.6" width="7" height="8.7" fill="#b2dfdb"/>
<rect x="226" y="509.1" width="6" height="6.2" fill="#b2dfdb"/>
<rect x="233" y="514.3" width="7" height="1.0" fill="#b2dfdb"/>
<rect x="241" y="515.3" width="6" height="6.2" fill="#ff5252"/>
<rect x="248" y="515.3" width="7" height="15.7" fill="#ff5252"/>
<rect x="256" y="515.3" width="6" height="19.1" fill="#ff5252"/>
<rect x="263" y="515.3" width="7" height="23.6" fill="#ff5252"/>
<rect x="271" y="515.3" width="6" height="33.3" fill="#ff5252"/>
<rect x="278" y="515.3" width="7" height="31.0" fill="#ffcdd2"/>
<rect x="286" y="515.3" width="6" height="28.9" fill="#ffcdd2"/>
<rect x="293" y="515.3" width="7" height="29.8" fill="#ff5252"/>
<rect x="301" y="515.3" width="6" height="29.4" fill="#ffcdd2"/>
<rect x="308" y="515.3" width="7" height="25.4" fill="#ffcdd2"/>
<rect x="316" y="515.3" width="6" height="19.1" fill="#ffcdd2"/>
<rect x="323" y="515.3" width="7" height="14.5" fill="#ffcdd2"/>
<rect x="331" y="515.3" width="6" height="12.8" fill="#ffcdd2"/>
<rect x="338" y="515.3" width="7" height="10.1" fill="#ffcdd2"/>
<rect x="346" y="515.3" width="6" height="9.1" fill="#ffcdd2"/>
<rect x="353" y="515.3" width="7" height="8.2" fill="#ffcdd2"/>
<rect x="361" y="515.3" width="6" height="4.5" fill="#ffcdd2"/>
<rect x="368" y="515.3" width="7" height="5.0" fill="#ff5252"/>
<rect x="376" y="515.3" width="6" height="9.8" fill="#ff5252"/>
<rect x="383" y="515.3" width="7" height="11.7" fill="#ff5252"/>
<rect x="391" y="515.3" width="6" height="12.0" fill="#ff5252"/>
<rect x="398" y="515.3" width="7" height="11.8" fill="#ffcdd2"/>
<rect x="406" y="515.3" width="6" height="10.4" fill="#ffcdd2"/>
<rect x="413" y="515.3" width="7" height="6.9" fill="#ffcdd2"/>
<rect x="421" y="514.3" width="6" height="1.0" fill="#26a69a"/>
<rect x="428" y="513.8" width="7" height="1.5" fill="#26a69a"/>
<rect x="436" y="512.6" width="6" height="2.7" fill="#26a69a"/>
<rect x="443" y="512.8" width="7" height="2.5" fill="#b2dfdb"/>
<rect x="451" y="515.3" width="6" height="3.2" fill="#ff5252"/>
<rect x="458" y="515.3" width="7" height="11.4" fill="#ff5252"/>
<rect x="466" y="515.3" width="6" height="12.7" fill="#ff5252"/>
<rect x="473" y="515.3" width="7" height="14.0" fill="#ff5252"/>
<rect x="481" y="515.3" width="6" height="14.3" fill="#ff5252"/>
<rect x="488" y="515.3" width="7" height="15.7" fill="#ff5252"/>
<rect x="496" y="515.3" width="6" height="13.9" fill="#ffcdd2"/>
<rect x="503" y="515.3" width="7" height="12.1" fill="#ffcdd2"/>
<rect x="511" y="515.3" width="6" height="8.0" fill="#ffcdd2"/>
<rect x="518" y="515.3" width="7" height="4.9" fill="#ffcdd2"/>
<rect x="526" y="515.3" width="6" height="1.4" fill="#ffcdd2"/>
<rect x="533" y="513.8" width="7" height="1.5" fill="#26a69a"/>
<rect x="541" y="513.4" width="6" height="1.9" fill="#26a69a"/>
<rect x="548" y="512.7" width="7" height="2.6" fill="#26a69a"/>
<rect x="556" y="512.7" width="6" height="2.6" fill="#26a69a"/>
<rect x="563" y="510.0" width="7" height="5.3" fill="#26a69a"/>
<rect x="571" y="508.2" width="6" height="7.1" fill="#26a69a"/>
<rect x="578" y="508.2" width="7" height="7.1" fill="#b2dfdb"/>
<rect x="586" y="512.5" width="6" height="2.8" fill="#b2dfdb"/>
<rect x="593" y="515.3" width="7" height="1.0" fill="#ff5252"/>
<rect x="601" y="515.3" width="6" height="2.4" fill="#ff5252"/>
<rect x="608" y="515.3" width="7" height="1.0" fill="#ffcdd2"/>
<rect x="616" y="514.3" width="6" height="1.0" fill="#26a69a"/>
<rect x="623" y="512.9" width="7" height="2.4" fill="#26a69a"/>
<rect x="631" y="513.4" width="6" height="1.9" fill="#b2dfdb"/>
<rect x="638" y="514.3" width="7" height="1.0" fill="#b2dfdb"/>
<rect x="646" y="515.3" width="6" height="1.0" fill="#ff5252"/>
<rect x="653" y="515.3" width="7" height="1.0" fill="#ffcdd2"/>
<rect x="661" y="515.3" width="6" height="2.2" fill="#ff5252"/>
<rect x="668" y="515.3" width="7" height="3.1" fill="#ff5252"/>
<rect x="676" y="515.3" width="6" height="3.0" fill="#ffcdd2"/>
<rect x="683" y="515.3" width="7" height="2.1" fill="#ffcdd2"/>
<rect x="691" y="515.3" width="6" height="2.6" fill="#ff5252"/>
<rect x="698" y="514.3" width="7" height="1.0" fill="#26a69a"/>
<rect x="706" y="514.3" width="6" height="1.0" fill="#26a69a"/>
<rect x="713" y="511.0" width="7" height="4.3" fill="#26a69a"/>
<rect x="721" y="508.3" width="6" height="7.0" fill="#26a69a"/>
<rect x="728" y="507.8" width="7" height="7.5" fill="#26a69a"/>
<rect x="736" y="495.5" width="6" height="19.8" fill="#26a69a"/>
<rect x="743" y="486.2" width="7" height="29.1" fill="#26a69a"/>
<rect x="751" y="482.9" width="6" height="32.4" fill="#26a69a"/>
<rect x="758" y="481.5" width="7" height="33.8" fill="#26a69a"/>
<rect x="766" y="483.7" width="6" height="31.6" fill="#b2dfdb"/>
<rect x="773" y="486.5" width="7" height="28.8" fill="#b2dfdb"/>
<rect x="781" y="488.4" width="6" height="26.9" fill="#b2dfdb"/>
<rect x="788" y="489.8" width="7" height="25.5" fill="#b2dfdb"/>
<rect x="796" y="493.5" width="6" height="21.8" fill="#b2dfdb"/>
<rect x="803" y="499.0" width="7" height="16.3" fill="#b2dfdb"/>
<rect x="811" y="504.1" width="6" height="11.2" fill="#b2dfdb"/>
<rect x="818" y="508.0" width="7" height="7.3" fill="#b2dfdb"/>
<rect x="826" y="510.3" width="6" height="5.0" fill="#b2dfdb"/>
<rect x="833" y="513.1" width="7" height="2.2" fill="#b2dfdb"/>
<rect x="841" y="515.3" width="6" height="1.0" fill="#ff5252"/>
<rect x="848" y="515.3" width="7" height="1.6" fill="#ff5252"/>
<rect x="856" y="515.3" width="6" height="1.7" fill="#ff5252"/>
<rect x="863" y="515.3" width="7" height="3.3" fill="#ff5252"/>
<rect x="871" y="515.3" width="6" height="7.3" fill="#ff5252"/>
<rect x="878" y="515.3" width="7" height="9.8" fill="#ff5252"/>
<rect x="886" y="515.3" width="6" height="10.8" fill="#ff5252"/>
<rect x="893" y="515.3" width="7" height="12.1" fill="#ff5252"/>
<rect x="901" y="515.3" width="6" height="16.1" fill="#ff5252"/>
<rect x="908" y="515.3" width="7" height="16.9" fill="#ff5252"/>
<rect x="916" y="515.3" width="6" height="18.7" fill="#ff5252"/>
<rect x="923" y="515.3" width="7" height="18.8" fill="#ff5252"/>
<rect x="931" y="515.3" width="6" height="16.4" fill="#ffcdd2"/>
<rect x="938" y="515.3" width="7" height="13.1" fill="#ffcdd2"/>
<rect x="946" y="515.3" width="6" height="12.8" fill="#ffcdd2"/>
<rect x="953" y="515.3" width="7" height="12.6" fill="#ffcdd2"/>
<rect x="961" y="515.3" width="6" height="10.3" fill="#ffcdd2"/>
<rect x="968" y="515.3" width="7" height="9.4" fill="#ffcdd2"/>
<rect x="976" y="515.3" width="6" height="8.3" fill="#ffcdd2"/>
<rect x="983" y="515.3" width="7" height="7.7" fill="#ffcdd2"/>
<rect x="991" y="515.3" width="6" height="8.5" fill="#ff5252"/>
<rect x="998" y="515.3" width="7" height="9.9" fill="#ff5252"/>
<rect x="1006" y="515.3" width="6" height="9.4" fill="#ffcdd2"/>
<rect x="1013" y="515.3" width="7" height="9.0" fill="#ffcdd2"/>
<rect x="1021" y="515.3" width="6" height="6.6" fill="#ffcdd2"/>
<rect x="1028" y="515.3" width="7" height="6.2" fill="#ffcdd2"/>
<rect x="1036" y="515.3" width="6" height="5.5" fill="#ffcdd2"/>
<rect x="1043" y="515.3" width="7" height="3.4" fill="#ffcdd2"/>
<rect x="1051" y="515.3" width="6" height="1.8" fill="#ffcdd2"/>
<rect x="1058" y="515.3" width="7" height="1.0" fill="#ffcdd2"/>
<rect x="1066" y="515.3" width="6" height="2.8" fill="#ff5252"/>
<rect x="1073" y="515.3" width="7" height="8.6" fill="#ff5252"/>
<rect x="1081" y="515.3" width="6" height="13.2" fill="#ff5252"/>
<rect x="1088" y="515.3" width="7" height="13.5" fill="#ff5252"/>
<rect x="1096" y="515.3" width="6" height="15.6" fill="#ff5252"/>
<rect x="1103" y="515.3" width="7" height="13.9" fill="#ffcdd2"/>
<rect x="1111" y="515.3" width="6" height="11.0" fill="#ffcdd2"/>
<rect x="1118" y="515.3" width="7" height="7.5" fill="#ffcdd2"/>
<rect x="1126" y="515.3" width="6" height="4.7" fill="#ffcdd2"/>
<rect x="1133" y="515.3" width="7" height="1.6" fill="#ffcdd2"/>
<rect x="1141" y="513.7" width="6" height="1.6" fill="#26a69a"/>
<rect x="1148" y="510.1" width="7" height="5.2" fill="#26a69a"/>
<rect x="1156" y="502.8" width="6" height="12.5" fill="#26a69a"/>
<rect x="1163" y="499.4" width="7" height="15.9" fill="#26a69a"/>
<rect x="1171" y="499.1" width="6" height="16.2" fill="#26a69a"/>
<rect x="1178" y="498.7" width="7" height="16.6" fill="#26a69a"/>
<rect x="1186" y="497.6" width="6" height="17.7" fill="#26a69a"/>
<rect x="1193" y="497.4" width="7" height="17.9" fill="#26a69a"/>
<rect x="1201" y="497.7" width="6" height="17.6" fill="#b2dfdb"/>
<rect x="1208" y="500.8" width="7" height="14.5" fill="#b2dfdb"/>
<rect x="1216" y="501.7" width="6" height="13.6" fill="#b2dfdb"/>
<polyline points="12.5,495.8 19.5,489.5 27.5,483.7 34.5,480.1 42.5,478.2 49.5,474.5 57.5,470.4 64.5,466.0 72.5,464.2 79.5,463.4 87.5,464.6 94.5,464.3 102.5,461.5 109.5,458.4 117.5,454.8 124.5,449.1 132.5,446.5 139.5,442.8 147.5,441.1 154.5,438.9 162.5,434.4 169.5,433.8 177.5,427.4 184.5,422.1 192.5,418.6 199.5,416.3 207.5,416.4 214.5,412.9 222.5,413.5 229.5,414.5 237.5,419.6 244.5,428.2 252.5,441.6 259.5,449.8 267.5,460.2 274.5,478.2 282.5,483.6 289.5,488.8 297.5,497.2 304.5,504.1 312.5,506.5 319.5,504.9 327.5,503.9 334.5,505.5 342.5,505.3 349.5,506.5 357.5,507.7 364.5,505.1 372.5,506.9 379.5,514.1 387.5,519.0 394.5,522.3 402.5,525.1 409.5,526.2 417.5,524.4 424.5,516.7 432.5,515.5 439.5,513.6 447.5,513.2 454.5,519.7 462.5,530.7 469.5,535.3 477.5,540.0 484.5,543.9 492.5,549.2 499.5,550.9 507.5,552.1 514.5,550.0 522.5,548.2 529.5,545.1 537.5,541.8 544.5,540.9 552.5,539.6 559.5,538.9 567.5,534.9 574.5,531.3 582.5,529.5 589.5,533.2 597.5,536.9 604.5,539.2 612.5,537.7 619.5,535.9 627.5,533.8 634.5,533.8 642.5,535.1 649.5,536.7 657.5,536.1 664.5,538.6 672.5,540.3 679.5,540.9 687.5,540.5 694.5,541.7 702.5,538.4 709.5,537.9 717.5,533.4 724.5,528.9 732.5,526.5 739.5,509.3 747.5,492.7 754.5,481.2 762.5,471.5 769.5,465.8 777.5,461.3 784.5,456.5 792.5,451.5 799.5,449.7 807.5,451.2 814.5,453.4 822.5,455.6 829.5,456.5 837.5,458.8 844.5,461.6 852.5,463.2 859.5,463.7 867.5,466.1 874.5,471.9 882.5,476.9 889.5,480.6 897.5,484.9 904.5,493.0 912.5,498.0 919.5,504.4 927.5,509.3 934.5,511.0 942.5,510.9 949.5,513.8 957.5,516.7 964.5,517.1 972.5,518.5 979.5,519.5 987.5,520.8 994.5,523.7 1002.5,527.6 1009.5,529.4 1017.5,531.3 1024.5,530.6 1032.5,531.7 1039.5,532.3 1047.5,531.1 1054.5,529.9 1062.5,529.4 1069.5,532.0 1077.5,539.9 1084.5,547.8 1092.5,551.4 1099.5,557.4 1107.5,559.3 1114.5,559.0 1122.5,557.4 1129.5,555.8 1137.5,553.1 1144.5,549.6 1152.5,544.6 1159.5,534.2 1167.5,526.9 1174.5,522.5 1182.5,517.9 1189.5,512.4 1197.5,507.7 1204.5,503.6 1212.5,503.1 1219.5,500.6" fill="none" stroke="#2962ff" stroke-width="1.3" stroke-linejoin="round" stroke-linecap="round" />
<polyline points="12.5,507.7 19.5,504.1 27.5,500.0 34.5,496.0 42.5,492.5 49.5,488.9 57.5,485.2 64.5,481.3 72.5,477.9 79.5,475.0 87.5,472.9 94.5,471.2 102.5,469.3 109.5,467.1 117.5,464.6 124.5,461.5 132.5,458.5 139.5,455.4 147.5,452.5 154.5,449.8 162.5,446.7 169.5,444.1 177.5,440.8 184.5,437.1 192.5,433.4 199.5,430.0 207.5,427.3 214.5,424.4 222.5,422.2 229.5,420.7 237.5,420.4 244.5,422.0 252.5,425.9 259.5,430.7 267.5,436.6 274.5,444.9 282.5,452.7 289.5,459.9 297.5,467.4 304.5,474.7 312.5,481.1 319.5,485.8 327.5,489.4 334.5,492.7 342.5,495.2 349.5,497.4 357.5,499.5 364.5,500.6 372.5,501.9 379.5,504.3 387.5,507.3 394.5,510.3 402.5,513.2 409.5,515.8 417.5,517.5 424.5,517.4 432.5,517.0 439.5,516.3 447.5,515.7 454.5,516.5 462.5,519.3 469.5,522.5 477.5,526.0 484.5,529.6 492.5,533.5 499.5,537.0 507.5,540.0 514.5,542.0 522.5,543.3 529.5,543.6 537.5,543.3 544.5,542.8 552.5,542.1 559.5,541.5 567.5,540.2 574.5,538.4 582.5,536.6 589.5,535.9 597.5,536.1 604.5,536.8 612.5,536.9 619.5,536.7 627.5,536.2 634.5,535.7 642.5,535.6 649.5,535.8 657.5,535.8 664.5,536.4 672.5,537.2 679.5,537.9 687.5,538.4 694.5,539.1 702.5,538.9 709.5,538.7 717.5,537.7 724.5,535.9 732.5,534.0 739.5,529.1 747.5,521.8 754.5,513.7 762.5,505.3 769.5,497.4 777.5,490.2 784.5,483.4 792.5,477.0 799.5,471.6 807.5,467.5 814.5,464.7 822.5,462.9 829.5,461.6 837.5,461.0 844.5,461.2 852.5,461.6 859.5,462.0 867.5,462.8 874.5,464.6 882.5,467.1 889.5,469.8 897.5,472.8 904.5,476.9 912.5,481.1 919.5,485.8 927.5,490.5 934.5,494.6 942.5,497.8 949.5,501.0 957.5,504.2 964.5,506.7 972.5,509.1 979.5,511.2 987.5,513.1 994.5,515.2 1002.5,517.7 1009.5,520.0 1017.5,522.3 1024.5,524.0 1032.5,525.5 1039.5,526.9 1047.5,527.7 1054.5,528.2 1062.5,528.4 1069.5,529.1 1077.5,531.3 1084.5,534.6 1092.5,537.9 1099.5,541.8 1107.5,545.3 1114.5,548.1 1122.5,549.9 1129.5,551.1 1137.5,551.5 1144.5,551.1 1152.5,549.8 1159.5,546.7 1167.5,542.7 1174.5,538.7 1182.5,534.5 1189.5,530.1 1197.5,525.6 1204.5,521.2 1212.5,517.6 1219.5,514.2" fill="none" stroke="#ff6d00" stroke-width="1.3" stroke-linejoin="round" stroke-linecap="round" />
</g>
<g clip-path="url(#cp3)">
<rect x="12.5" y="632.5" width="1701.3" height="99" fill="#7e57c2" fill-opacity="0.1"/>
<clipPath id="ob"><path d="M12.5,632.2 L12.5,629.0 L19.5,614.8 L27.5,610.9 L34.5,618.3 L42.5,623.7 L49.5,614.1 L57.5,608.9 L64.5,604.0 L72.5,617.0 L79.5,616.8 L87.5,630.7 L94.5,623.3 L102.5,612.9 L109.5,608.4 L117.5,604.1 L124.5,596.6 L132.5,607.6 L139.5,602.3 L147.5,605.7 L154.5,601.9 L162.5,595.2 L169.5,612.1 L177.5,599.5 L184.5,597.6 L192.5,597.0 L199.5,596.1 L207.5,602.5 L214.5,594.8 L222.5,611.5 L229.5,610.2 L237.5,632.2 L244.5,632.2 L252.5,632.2 L259.5,632.2 L267.5,632.2 L274.5,632.2 L282.5,632.2 L289.5,632.2 L297.5,632.2 L304.5,632.2 L312.5,632.2 L319.5,632.2 L327.5,632.2 L334.5,632.2 L342.5,632.2 L349.5,632.2 L357.5,632.2 L364.5,632.2 L372.5,632.2 L379.5,632.2 L387.5,632.2 L394.5,632.2 L402.5,632.2 L409.5,632.2 L417.5,632.2 L424.5,632.2 L432.5,632.2 L439.5,632.2 L447.5,632.2 L454.5,632.2 L462.5,632.2 L469.5,632.2 L477.5,632.2 L484.5,632.2 L492.5,632.2 L499.5,632.2 L507.5,632.2 L514.5,632.2 L522.5,632.2 L529.5,632.2 L537.5,632.2 L544.5,632.2 L552.5,632.2 L559.5,632.2 L567.5,632.2 L574.5,632.2 L582.5,632.2 L589.5,632.2 L597.5,632.2 L604.5,632.2 L612.5,632.2 L619.5,632.2 L627.5,632.2 L634.5,632.2 L642.5,632.2 L649.5,632.2 L657.5,632.2 L664.5,632.2 L672.5,632.2 L679.5,632.2 L687.5,632.2 L694.5,632.2 L702.5,632.2 L709.5,632.2 L717.5,632.2 L724.5,632.2 L732.5,632.2 L739.5,631.8 L747.5,625.8 L754.5,632.2 L762.5,629.8 L769.5,632.2 L777.5,632.2 L784.5,630.9 L792.5,626.7 L799.5,632.2 L807.5,632.2 L814.5,632.2 L822.5,632.2 L829.5,632.2 L837.5,632.2 L844.5,632.2 L852.5,632.2 L859.5,632.2 L867.5,632.2 L874.5,632.2 L882.5,632.2 L889.5,632.2 L897.5,632.2 L904.5,632.2 L912.5,632.2 L919.5,632.2 L927.5,632.2 L934.5,632.2 L942.5,632.2 L949.5,632.2 L957.5,632.2 L964.5,632.2 L972.5,632.2 L979.5,632.2 L987.5,632.2 L994.5,632.2 L1002.5,632.2 L1009.5,632.2 L1017.5,632.2 L1024.5,632.2 L1032.5,632.2 L1039.5,632.2 L1047.5,632.2 L1054.5,632.2 L1062.5,632.2 L1069.5,632.2 L1077.5,632.2 L1084.5,632.2 L1092.5,632.2 L1099.5,632.2 L1107.5,632.2 L1114.5,632.2 L1122.5,632.2 L1129.5,632.2 L1137.5,632.2 L1144.5,632.2 L1152.5,632.2 L1159.5,632.2 L1167.5,632.2 L1174.5,632.2 L1182.5,632.2 L1189.5,632.2 L1197.5,632.2 L1204.5,632.2 L1212.5,632.2 L1219.5,632.2 L1219.5,632.2 Z"/></clipPath>
<rect x="12.5" y="558.2" width="1701.3" height="74.0" fill="url(#rg)" clip-path="url(#ob)"/>
<clipPath id="os"><path d="M12.5,731.5 L12.5,731.5 L19.5,731.5 L27.5,731.5 L34.5,731.5 L42.5,731.5 L49.5,731.5 L57.5,731.5 L64.5,731.5 L72.5,731.5 L79.5,731.5 L87.5,731.5 L94.5,731.5 L102.5,731.5 L109.5,731.5 L117.5,731.5 L124.5,731.5 L132.5,731.5 L139.5,731.5 L147.5,731.5 L154.5,731.5 L162.5,731.5 L169.5,731.5 L177.5,731.5 L184.5,731.5 L192.5,731.5 L199.5,731.5 L207.5,731.5 L214.5,731.5 L222.5,731.5 L229.5,731.5 L237.5,731.5 L244.5,731.5 L252.5,731.5 L259.5,731.5 L267.5,731.5 L274.5,731.5 L282.5,731.5 L289.5,731.5 L297.5,731.5 L304.5,731.5 L312.5,731.5 L319.5,731.5 L327.5,731.5 L334.5,731.5 L342.5,731.5 L349.5,731.5 L357.5,731.5 L364.5,731.5 L372.5,731.5 L379.5,731.5 L387.5,731.5 L394.5,731.5 L402.5,731.5 L409.5,731.5 L417.5,731.5 L424.5,731.5 L432.5,731.5 L439.5,731.5 L447.5,731.5 L454.5,731.5 L462.5,731.5 L469.5,731.5 L477.5,731.5 L484.5,731.5 L492.5,731.5 L499.5,731.5 L507.5,731.5 L514.5,731.5 L522.5,731.5 L529.5,731.5 L537.5,731.5 L544.5,731.5 L552.5,731.5 L559.5,731.5 L567.5,731.5 L574.5,731.5 L582.5,731.5 L589.5,731.5 L597.5,731.5 L604.5,731.5 L612.5,731.5 L619.5,731.5 L627.5,731.5 L634.5,731.5 L642.5,731.5 L649.5,731.5 L657.5,731.5 L664.5,731.5 L672.5,731.5 L679.5,731.5 L687.5,731.5 L694.5,731.5 L702.5,731.5 L709.5,731.5 L717.5,731.5 L724.5,731.5 L732.5,731.5 L739.5,731.5 L747.5,731.5 L754.5,731.5 L762.5,731.5 L769.5,731.5 L777.5,731.5 L784.5,731.5 L792.5,731.5 L799.5,731.5 L807.5,731.5 L814.5,731.5 L822.5,731.5 L829.5,731.5 L837.5,731.5 L844.5,731.5 L852.5,731.5 L859.5,731.5 L867.5,731.5 L874.5,731.5 L882.5,731.5 L889.5,731.5 L897.5,731.5 L904.5,731.5 L912.5,731.5 L919.5,731.5 L927.5,731.5 L934.5,731.5 L942.5,731.5 L949.5,731.5 L957.5,731.5 L964.5,731.5 L972.5,731.5 L979.5,731.5 L987.5,731.5 L994.5,731.5 L1002.5,731.5 L1009.5,731.5 L1017.5,731.5 L1024.5,731.5 L1032.5,731.5 L1039.5,731.5 L1047.5,731.5 L1054.5,731.5 L1062.5,731.5 L1069.5,731.5 L1077.5,734.9 L1084.5,740.5 L1092.5,731.5 L1099.5,735.2 L1107.5,731.5 L1114.5,731.5 L1122.5,731.5 L1129.5,731.5 L1137.5,731.5 L1144.5,731.5 L1152.5,731.5 L1159.5,731.5 L1167.5,731.5 L1174.5,731.5 L1182.5,731.5 L1189.5,731.5 L1197.5,731.5 L1204.5,731.5 L1212.5,731.5 L1219.5,731.5 L1219.5,731.5 Z"/></clipPath>
<rect x="12.5" y="731.5" width="1701.3" height="73.2" fill="url(#rg2)" clip-path="url(#os)"/>
<line x1="13" y1="632.5" x2="1713.8" y2="632.5" stroke="#737683" stroke-width="1" stroke-dasharray="5 6"/>
<line x1="13" y1="681.5" x2="1713.8" y2="681.5" stroke="#b0b2bb" stroke-width="1" stroke-dasharray="5 6"/>
<line x1="13" y1="731.5" x2="1713.8" y2="731.5" stroke="#737683" stroke-width="1" stroke-dasharray="5 6"/>
<polyline points="12.5,666.1 19.5,660.6 27.5,655.0 34.5,650.1 42.5,645.4 49.5,639.9 57.5,634.1 64.5,629.3 72.5,626.2 79.5,623.0 87.5,621.7 94.5,620.0 102.5,617.7 109.5,616.6 117.5,614.9 124.5,613.5 132.5,613.3 139.5,612.2 147.5,610.9 154.5,610.0 162.5,609.0 169.5,609.6 177.5,608.4 184.5,607.0 192.5,604.6 199.5,602.6 207.5,601.9 214.5,600.9 222.5,601.4 229.5,602.4 237.5,604.2 244.5,607.9 252.5,613.1 259.5,617.9 267.5,624.0 274.5,631.0 282.5,636.7 289.5,642.7 297.5,649.5 304.5,656.4 312.5,662.2 319.5,667.7 327.5,672.1 334.5,677.1 342.5,680.2 349.5,682.1 357.5,682.1 364.5,682.1 372.5,682.1 379.5,681.4 387.5,682.6 394.5,683.5 402.5,683.8 409.5,683.7 417.5,683.5 424.5,682.6 432.5,683.0 439.5,682.6 447.5,682.9 454.5,684.4 462.5,686.9 469.5,689.2 477.5,690.9 484.5,691.3 492.5,692.5 499.5,693.1 507.5,693.8 514.5,694.0 522.5,695.0 529.5,697.1 537.5,697.7 544.5,699.2 552.5,700.2 559.5,699.8 567.5,697.3 574.5,695.7 582.5,694.3 589.5,694.4 597.5,694.2 604.5,694.5 612.5,693.5 619.5,693.2 627.5,692.7 634.5,693.2 642.5,694.3 649.5,695.1 657.5,695.3 664.5,696.3 672.5,698.4 679.5,700.4 687.5,701.6 694.5,702.0 702.5,700.3 709.5,699.6 717.5,698.5 724.5,697.4 732.5,696.9 739.5,692.3 747.5,686.9 754.5,681.6 762.5,676.8 769.5,671.6 777.5,666.3 784.5,660.9 792.5,655.5 799.5,650.0 807.5,647.1 814.5,643.6 822.5,641.5 829.5,639.2 837.5,636.9 844.5,638.2 852.5,639.6 859.5,640.2 867.5,641.7 874.5,644.2 882.5,646.8 889.5,649.4 897.5,652.8 904.5,657.3 912.5,660.4 919.5,664.0 927.5,667.6 934.5,670.6 942.5,672.7 949.5,675.7 957.5,679.2 964.5,682.3 972.5,685.2 979.5,686.5 987.5,688.0 994.5,690.5 1002.5,693.1 1009.5,693.4 1017.5,694.7 1024.5,694.2 1032.5,694.5 1039.5,695.7 1047.5,696.6 1054.5,696.5 1062.5,696.3 1069.5,698.3 1077.5,701.5 1084.5,705.1 1092.5,707.4 1099.5,709.7 1107.5,710.4 1114.5,711.1 1122.5,711.1 1129.5,712.2 1137.5,712.2 1144.5,711.8 1152.5,711.3 1159.5,708.8 1167.5,706.5 1174.5,703.5 1182.5,698.5 1189.5,692.5 1197.5,687.5 1204.5,681.6 1212.5,678.0 1219.5,674.1" fill="none" stroke="#ffe83b" stroke-width="1.3" stroke-linejoin="round" stroke-linecap="round" />
<polyline points="12.5,629.0 19.5,614.8 27.5,610.9 34.5,618.3 42.5,623.7 49.5,614.1 57.5,608.9 64.5,604.0 72.5,617.0 79.5,616.8 87.5,630.7 94.5,623.3 102.5,612.9 109.5,608.4 117.5,604.1 124.5,596.6 132.5,607.6 139.5,602.3 147.5,605.7 154.5,601.9 162.5,595.2 169.5,612.1 177.5,599.5 184.5,597.6 192.5,597.0 199.5,596.1 207.5,602.5 214.5,594.8 222.5,611.5 229.5,610.2 237.5,632.4 244.5,653.7 252.5,679.7 259.5,668.4 267.5,681.1 274.5,709.1 282.5,679.8 289.5,681.5 297.5,692.4 304.5,692.8 312.5,682.7 319.5,672.6 327.5,672.9 334.5,680.4 342.5,675.4 349.5,679.9 357.5,680.4 364.5,667.9 372.5,681.6 379.5,699.7 387.5,696.4 394.5,694.5 402.5,695.5 409.5,691.5 417.5,680.9 424.5,659.8 432.5,678.3 439.5,674.9 447.5,679.0 454.5,700.6 462.5,715.2 469.5,701.2 477.5,704.8 484.5,705.9 492.5,712.3 499.5,704.0 507.5,704.9 514.5,694.1 522.5,694.9 529.5,689.1 537.5,687.1 544.5,695.0 552.5,693.0 559.5,695.6 567.5,680.4 574.5,679.3 582.5,685.2 589.5,706.3 597.5,710.1 604.5,707.6 612.5,691.7 619.5,689.9 627.5,687.1 634.5,696.1 642.5,702.5 649.5,706.1 657.5,696.1 664.5,710.1 672.5,709.7 679.5,706.7 687.5,703.0 694.5,711.4 702.5,686.4 709.5,697.4 717.5,677.2 724.5,673.7 732.5,680.7 739.5,631.8 747.5,625.8 754.5,632.2 762.5,629.8 769.5,636.9 777.5,635.6 784.5,630.9 792.5,626.7 799.5,634.7 807.5,646.0 814.5,648.4 822.5,647.2 829.5,642.7 837.5,648.0 844.5,650.2 852.5,645.6 859.5,640.6 867.5,650.5 874.5,671.8 882.5,671.4 889.5,668.1 897.5,674.5 904.5,697.8 912.5,688.5 919.5,699.4 927.5,697.6 934.5,684.8 942.5,677.4 949.5,691.8 957.5,695.3 964.5,683.9 972.5,690.4 979.5,689.5 987.5,692.6 994.5,702.7 1002.5,711.0 1009.5,703.2 1017.5,706.3 1024.5,691.8 1032.5,701.6 1039.5,701.7 1047.5,690.4 1054.5,690.0 1062.5,693.5 1069.5,711.6 1077.5,734.9 1084.5,740.5 1092.5,724.6 1099.5,735.2 1107.5,720.1 1114.5,712.7 1122.5,707.2 1129.5,707.4 1137.5,701.7 1144.5,694.8 1152.5,683.8 1159.5,655.4 1167.5,661.1 1174.5,669.3 1182.5,664.8 1189.5,656.4 1197.5,654.9 1204.5,652.9 1212.5,669.0 1219.5,659.2" fill="none" stroke="#7e57c2" stroke-width="1.3" stroke-linejoin="round" stroke-linecap="round" />
</g>
<text x="1725.5" y="46.8" font-size="15" fill="#131722" font-weight="normal" text-anchor="start" textLength="58.0" lengthAdjust="spacingAndGlyphs" >4,250.00</text>
<text x="1725.5" y="91.1" font-size="15" fill="#131722" font-weight="normal" text-anchor="start" textLength="58.0" lengthAdjust="spacingAndGlyphs" >4,000.00</text>
<text x="1725.5" y="311.7" font-size="15" fill="#131722" font-weight="normal" text-anchor="start" textLength="58.0" lengthAdjust="spacingAndGlyphs" >2,750.00</text>
<text x="1725.5" y="356.0" font-size="15" fill="#131722" font-weight="normal" text-anchor="start" textLength="58.0" lengthAdjust="spacingAndGlyphs" >2,500.00</text>
<text x="1725.0" y="456.6" font-size="15" fill="#131722" font-weight="normal" text-anchor="start" textLength="45.4" lengthAdjust="spacingAndGlyphs" >200.00</text>
<text x="1725.5" y="612.7" font-size="15" fill="#131722" font-weight="normal" text-anchor="start" textLength="37.0" lengthAdjust="spacingAndGlyphs" >80.00</text>
<text x="1725.5" y="711.4" font-size="15" fill="#131722" font-weight="normal" text-anchor="start" textLength="37.0" lengthAdjust="spacingAndGlyphs" >40.00</text>
<rect x="1714" y="119" width="77" height="21" fill="#2962ff" rx="1.5"/>
<text x="1726.0" y="133.8" font-size="15" fill="#fff" font-weight="normal" text-anchor="start" textLength="58.0" lengthAdjust="spacingAndGlyphs" stroke="#fff" stroke-width="0.25">3,677.31</text>
<rect x="1714" y="139.5" width="77" height="21.69999999999999" fill="#2962ff" rx="1.5"/>
<text x="1726.0" y="154.3" font-size="15" fill="#fff" font-weight="normal" text-anchor="start" textLength="58.0" lengthAdjust="spacingAndGlyphs" stroke="#fff" stroke-width="0.25">3,555.00</text>
<rect x="1714" y="161.2" width="77" height="38.60000000000002" fill="#089981" rx="1.5"/>
<text x="1726.0" y="174.9" font-size="15" fill="#fff" font-weight="normal" text-anchor="start" textLength="58.0" lengthAdjust="spacingAndGlyphs" stroke="#fff" stroke-width="0.25">3,521.20</text>
<text x="1727.0" y="193.4" font-size="15" fill="#cdebe6" font-weight="normal" text-anchor="start" textLength="57.0" lengthAdjust="spacingAndGlyphs" >15:03:17</text>
<rect x="1714" y="200" width="77" height="20.69999999999999" fill="#4caf50" rx="1.5"/>
<text x="1726.0" y="214.8" font-size="15" fill="#fff" font-weight="normal" text-anchor="start" textLength="58.0" lengthAdjust="spacingAndGlyphs" stroke="#fff" stroke-width="0.25">3,441.00</text>
<rect x="1714" y="220.9" width="77" height="20.799999999999983" fill="#f23645" rx="1.5"/>
<text x="1726.0" y="235.7" font-size="15" fill="#fff" font-weight="normal" text-anchor="start" textLength="58.0" lengthAdjust="spacingAndGlyphs" stroke="#fff" stroke-width="0.25">3,373.17</text>
<rect x="1714" y="242.9" width="77" height="21.099999999999994" fill="#2962ff" rx="1.5"/>
<text x="1726.0" y="257.7" font-size="15" fill="#fff" font-weight="normal" text-anchor="start" textLength="58.0" lengthAdjust="spacingAndGlyphs" stroke="#fff" stroke-width="0.25">3,351.15</text>
<rect x="1714" y="263.5" width="77" height="21.30000000000001" fill="#2962ff" rx="1.5"/>
<text x="1726.0" y="278.3" font-size="15" fill="#fff" font-weight="normal" text-anchor="start" textLength="58.0" lengthAdjust="spacingAndGlyphs" stroke="#fff" stroke-width="0.25">3,094.39</text>
<rect x="1714" y="373" width="82.20000000000005" height="20.69999999999999" fill="#26a69a" rx="1.5"/>
<text x="1726.0" y="388.6" font-size="15" fill="#fff" font-weight="normal" text-anchor="start" textLength="53.4" lengthAdjust="spacingAndGlyphs" stroke="#fff" stroke-width="0.25">137.595</text>
<text x="1782.3" y="388.6" font-size="15" fill="#fff" font-weight="normal" text-anchor="start" textLength="8.0" lengthAdjust="spacingAndGlyphs" stroke="#fff" stroke-width="0.25">K</text>
<rect x="1714" y="471" width="55" height="20.80000000000001" fill="#2962ff" rx="1.5"/>
<text x="1726.0" y="486.5" font-size="15" fill="#fff" font-weight="normal" text-anchor="start" textLength="37.0" lengthAdjust="spacingAndGlyphs" stroke="#fff" stroke-width="0.25">45.37</text>
<rect x="1714" y="491.8" width="55" height="20.599999999999966" fill="#b2dfdb" rx="1.5"/>
<text x="1726.0" y="507.3" font-size="15" fill="#131722" font-weight="normal" text-anchor="start" textLength="37.0" lengthAdjust="spacingAndGlyphs" >42.08</text>
<rect x="1714" y="513" width="48" height="20.899999999999977" fill="#ff6d00" rx="1.5"/>
<text x="1726.0" y="528.5" font-size="15" fill="#fff" font-weight="normal" text-anchor="start" textLength="29.3" lengthAdjust="spacingAndGlyphs" stroke="#fff" stroke-width="0.25">3.28</text>
<rect x="1714" y="648.9" width="55" height="20.5" fill="#7e57c2" rx="1.5"/>
<text x="1726.0" y="664.7" font-size="15" fill="#fff" font-weight="normal" text-anchor="start" textLength="37.0" lengthAdjust="spacingAndGlyphs" stroke="#fff" stroke-width="0.25">59.02</text>
<rect x="1714" y="669.4" width="55" height="21.5" fill="#ffeb3b" rx="1.5"/>
<text x="1726.0" y="685.6" font-size="15" fill="#131722" font-weight="normal" text-anchor="start" textLength="37.0" lengthAdjust="spacingAndGlyphs" >52.96</text>
<text x="19.9" y="778.7" font-size="15" fill="#131722" font-weight="normal" text-anchor="start" textLength="14.7" lengthAdjust="spacingAndGlyphs" >15</text>
<text x="126.7" y="778.7" font-size="15" fill="#131722" font-weight="bold" text-anchor="start" textLength="25.0" lengthAdjust="spacingAndGlyphs" >Mar</text>
<text x="259.8" y="778.7" font-size="15" fill="#131722" font-weight="normal" text-anchor="start" textLength="14.7" lengthAdjust="spacingAndGlyphs" >18</text>
<text x="360.2" y="778.7" font-size="15" fill="#131722" font-weight="bold" text-anchor="start" textLength="24.0" lengthAdjust="spacingAndGlyphs" >Apr</text>
<text x="469.8" y="778.7" font-size="15" fill="#131722" font-weight="normal" text-anchor="start" textLength="14.7" lengthAdjust="spacingAndGlyphs" >15</text>
<text x="583.4" y="778.7" font-size="15" fill="#131722" font-weight="bold" text-anchor="start" textLength="27.6" lengthAdjust="spacingAndGlyphs" >May</text>
<text x="694.9" y="778.7" font-size="15" fill="#131722" font-weight="normal" text-anchor="start" textLength="14.7" lengthAdjust="spacingAndGlyphs" >15</text>
<text x="816.5" y="778.7" font-size="15" fill="#131722" font-weight="bold" text-anchor="start" textLength="25.4" lengthAdjust="spacingAndGlyphs" >Jun</text>
<text x="941.9" y="778.7" font-size="15" fill="#131722" font-weight="normal" text-anchor="start" textLength="14.7" lengthAdjust="spacingAndGlyphs" >17</text>
<text x="1043.6" y="778.7" font-size="15" fill="#131722" font-weight="bold" text-anchor="start" textLength="21.2" lengthAdjust="spacingAndGlyphs" >Jul</text>
<text x="1151.9" y="778.7" font-size="15" fill="#131722" font-weight="normal" text-anchor="start" textLength="14.7" lengthAdjust="spacingAndGlyphs" >15</text>
<text x="1274.4" y="778.7" font-size="15" fill="#131722" font-weight="bold" text-anchor="start" textLength="25.7" lengthAdjust="spacingAndGlyphs" >Aug</text>
<text x="1384.9" y="778.7" font-size="15" fill="#131722" font-weight="normal" text-anchor="start" textLength="14.7" lengthAdjust="spacingAndGlyphs" >15</text>
<text x="1506.9" y="778.7" font-size="15" fill="#131722" font-weight="bold" text-anchor="start" textLength="24.7" lengthAdjust="spacingAndGlyphs" >Sep</text>
<text x="1624.9" y="778.7" font-size="15" fill="#131722" font-weight="normal" text-anchor="start" textLength="14.7" lengthAdjust="spacingAndGlyphs" >16</text>
<text x="23.3" y="58.8" font-size="15" fill="#131722" font-weight="normal" text-anchor="start" textLength="236.0" lengthAdjust="spacingAndGlyphs" >Ethereum / TetherUS, 1D, BINANCE</text>
<text x="269.3" y="58.8" font-size="15" fill="#131722" font-weight="normal" text-anchor="start" textLength="9.0" lengthAdjust="spacingAndGlyphs" >O</text>
<text x="279.5" y="58.8" font-size="15" fill="#089981" font-weight="normal" text-anchor="start" textLength="56.5" lengthAdjust="spacingAndGlyphs" >3,439.61</text>
<text x="347.0" y="58.8" font-size="15" fill="#131722" font-weight="normal" text-anchor="start" textLength="8.5" lengthAdjust="spacingAndGlyphs" >H</text>
<text x="356.3" y="58.8" font-size="15" fill="#089981" font-weight="normal" text-anchor="start" textLength="57.6" lengthAdjust="spacingAndGlyphs" >3,532.38</text>
<text x="423.8" y="58.8" font-size="15" fill="#131722" font-weight="normal" text-anchor="start" textLength="7.0" lengthAdjust="spacingAndGlyphs" >L</text>
<text x="431.8" y="58.8" font-size="15" fill="#089981" font-weight="normal" text-anchor="start" textLength="57.3" lengthAdjust="spacingAndGlyphs" >3,425.00</text>
<text x="498.4" y="58.8" font-size="15" fill="#131722" font-weight="normal" text-anchor="start" textLength="8.0" lengthAdjust="spacingAndGlyphs" >C</text>
<text x="507.6" y="58.8" font-size="15" fill="#089981" font-weight="normal" text-anchor="start" textLength="57.7" lengthAdjust="spacingAndGlyphs" >3,521.20</text>
<text x="574.6" y="58.8" font-size="15" fill="#089981" font-weight="normal" text-anchor="start" textLength="106.0" lengthAdjust="spacingAndGlyphs" >+81.60 (+2.37%)</text>
<text x="23.3" y="80.2" font-size="15" fill="#131722" font-weight="normal" text-anchor="start" textLength="60.0" lengthAdjust="spacingAndGlyphs" >Vol · ETH</text>
<text x="94.3" y="80.2" font-size="15" fill="#26a69a" font-weight="normal" text-anchor="start" textLength="55.3" lengthAdjust="spacingAndGlyphs" >137.595</text>
<text x="151.4" y="80.2" font-size="15" fill="#26a69a" font-weight="normal" text-anchor="start" textLength="6.5" lengthAdjust="spacingAndGlyphs" >K</text>
<text x="23.3" y="100.7" font-size="15" fill="#131722" font-weight="normal" text-anchor="start" textLength="94.0" lengthAdjust="spacingAndGlyphs" >EMA (9, close)</text>
<text x="127.5" y="100.7" font-size="15" fill="#4caf50" font-weight="normal" text-anchor="start" textLength="57.5" lengthAdjust="spacingAndGlyphs" >3,441.00</text>
<text x="23.3" y="121.7" font-size="15" fill="#131722" font-weight="normal" text-anchor="start" textLength="102.0" lengthAdjust="spacingAndGlyphs" >EMA (20, close)</text>
<text x="135.5" y="121.7" font-size="15" fill="#f23645" font-weight="normal" text-anchor="start" textLength="57.5" lengthAdjust="spacingAndGlyphs" >3,373.17</text>
<text x="23.3" y="419.9" font-size="15" fill="#131722" font-weight="normal" text-anchor="start" textLength="137.7" lengthAdjust="spacingAndGlyphs" >MACD (12, 26, close)</text>
<text x="171.7" y="419.9" font-size="15" fill="#b2dfdb" font-weight="normal" text-anchor="start" textLength="36.3" lengthAdjust="spacingAndGlyphs" >42.08</text>
<text x="217.6" y="419.9" font-size="15" fill="#2962ff" font-weight="normal" text-anchor="start" textLength="35.5" lengthAdjust="spacingAndGlyphs" >45.37</text>
<text x="263.8" y="419.9" font-size="15" fill="#ff6d00" font-weight="normal" text-anchor="start" textLength="28.4" lengthAdjust="spacingAndGlyphs" >3.28</text>
<text x="23.8" y="600.8" font-size="15" fill="#131722" font-weight="normal" text-anchor="start" textLength="93.7" lengthAdjust="spacingAndGlyphs" >RSI (14, close)</text>
<text x="128.0" y="600.8" font-size="15" fill="#7e57c2" font-weight="normal" text-anchor="start" textLength="36.0" lengthAdjust="spacingAndGlyphs" >59.02</text>
<text x="174.0" y="600.8" font-size="15" fill="#ffeb3b" font-weight="normal" text-anchor="start" textLength="35.5" lengthAdjust="spacingAndGlyphs" >52.96</text>
<g stroke="#131722" stroke-width="1" fill="none"><ellipse cx="224.5" cy="596.6" rx="2.9" ry="3.9"/><line x1="221.2" y1="601.2" x2="227.8" y2="592"/></g>
<g stroke="#131722" stroke-width="1" fill="none"><ellipse cx="243.7" cy="596.6" rx="2.9" ry="3.9"/><line x1="240.39999999999998" y1="601.2" x2="247.0" y2="592"/></g>
<g stroke="#131722" stroke-width="1" fill="none"><ellipse cx="262.5" cy="596.6" rx="2.9" ry="3.9"/><line x1="259.2" y1="601.2" x2="265.8" y2="592"/></g>
<g stroke="#131722" stroke-width="1" fill="none"><ellipse cx="281.5" cy="596.6" rx="2.9" ry="3.9"/><line x1="278.2" y1="601.2" x2="284.8" y2="592"/></g>
<g><circle cx="1219.5" cy="377.2" r="14.4" fill="#fff"/><circle cx="1219.5" cy="377.2" r="12.1" fill="#fff" stroke="#9c27b0" stroke-width="1.9"/><path d="M1222.9,371 L1214.5,377.9 L1219.2,377.9 L1215.9,383.8 L1224.5,376.6 L1220,376.6 Z" fill="#9c27b0" stroke="#9c27b0" stroke-width="0.3" stroke-linejoin="round"/><circle cx="1228.1" cy="368.85" r="4.7" fill="#fff"/><circle cx="1228.1" cy="368.85" r="3.1" fill="#f23645"/></g>
<g fill="#131722"><path d="M13.1,806.8 H22.7 V818.85 H17.9 V811.4 H13.1 Z"/><circle cx="26.85" cy="809.3" r="2.75"/><path d="M32.3,806.8 H37.1 L32.6,818.85 H27.2 Z"/></g>
<text x="42.3" y="818.8" font-size="16" fill="#131722" font-weight="normal" text-anchor="start" textLength="87.5" lengthAdjust="spacingAndGlyphs" >TradingView</text>
</g></svg></body></html>
